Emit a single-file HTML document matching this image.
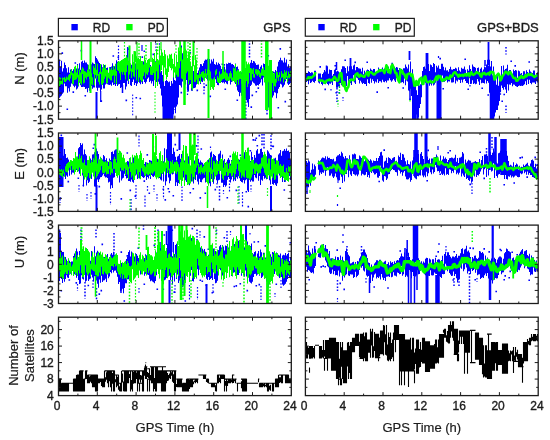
<!DOCTYPE html><html><head><meta charset="utf-8"><style>html,body{margin:0;padding:0;background:#fff;}svg{display:block}</style></head><body>
<svg width="550" height="440" viewBox="0 0 550 440">
<rect width="550" height="440" fill="#fff"/>
<defs>
<clipPath id="cp00"><rect x="58.50" y="40.80" width="232.80" height="78.40"/></clipPath>
<clipPath id="cp01"><rect x="305.40" y="40.80" width="232.80" height="78.40"/></clipPath>
<clipPath id="cp10"><rect x="58.50" y="133.00" width="232.80" height="78.40"/></clipPath>
<clipPath id="cp11"><rect x="305.40" y="133.00" width="232.80" height="78.40"/></clipPath>
<clipPath id="cp20"><rect x="58.50" y="225.10" width="232.80" height="78.40"/></clipPath>
<clipPath id="cp21"><rect x="305.40" y="225.10" width="232.80" height="78.40"/></clipPath>
<clipPath id="cp30"><rect x="58.50" y="317.20" width="232.80" height="78.40"/></clipPath>
<clipPath id="cp31"><rect x="305.40" y="317.20" width="232.80" height="78.40"/></clipPath>
</defs>
<g clip-path="url(#cp00)">
<path d="M58.5 67.5V96.9M59.5 59.5V97.8M60.5 66.7V96.5M61.5 60.8V95.6M62.5 71.6V93.8M63.5 68.3V92.4M64.5 62.6V83.4M65.5 64.9V86.3M66.5 68.3V86.2M67.5 72.4V92.7M68.5 67.3V88.2M69.5 72.8V91.5M70.5 69.5V86.8M71.5 69.0V83.6M72.5 71.0V84.2M73.5 69.2V85.8M74.5 67.8V87.2M75.5 69.6V85.7M76.5 68.6V89.4M77.5 64.1V88.4M78.5 68.6V86.5M79.5 63.2V82.8M80.5 69.8V85.3M81.5 61.8V87.0M82.5 60.7V87.0M83.5 62.9V86.7M84.5 60.4V86.9M85.5 62.5V89.1M86.5 62.6V88.6M87.5 64.2V92.3M88.5 69.8V87.9M89.5 69.2V90.8M90.5 66.0V85.9M91.5 64.2V86.0M92.5 62.5V88.8M93.5 63.5V87.4M94.5 63.9V87.5M95.5 56.3V78.5M96.5 58.0V87.7M97.5 59.5V90.8M98.5 61.5V87.8M99.5 63.1V87.8M100.5 64.6V91.4M101.5 64.4V89.6M102.5 67.2V81.1M103.5 64.4V88.5M104.5 65.0V88.6M105.5 66.8V84.5M106.5 68.0V83.6M107.5 67.4V84.3M108.5 72.8V84.8M109.5 67.2V85.0M110.5 66.9V84.6M111.5 66.6V85.8M112.5 63.2V82.6M113.5 69.6V84.9M114.5 66.3V84.2M115.5 64.9V86.1M116.5 60.2V81.3M117.5 61.8V86.1M118.5 63.8V84.4M119.5 66.2V83.9M120.5 67.5V88.0M121.5 63.2V87.2M122.5 67.7V88.3M123.5 61.7V82.9M124.5 60.5V82.9M125.5 59.1V89.6M126.5 65.6V86.6M127.5 57.7V80.8M128.5 65.6V84.0M129.5 62.6V79.0M130.5 67.6V85.2M131.5 64.8V86.0M132.5 61.1V82.1M133.5 62.3V79.5M134.5 64.5V85.1M135.5 63.5V82.9M136.5 67.8V86.1M137.5 63.8V83.6M138.5 64.3V78.2M139.5 61.8V82.7M140.5 61.7V84.2M141.5 69.0V82.2M142.5 61.5V84.0M143.5 61.6V79.6M144.5 68.3V82.0M145.5 61.6V83.5M146.5 63.5V81.8M147.5 65.2V78.7M148.5 65.1V77.5M149.5 65.6V82.0M150.5 65.1V80.7M151.5 67.3V83.6M152.5 66.0V81.3M153.5 68.3V85.9M154.5 66.1V79.6M155.5 67.6V84.8M156.5 65.0V81.9M157.5 66.4V83.9M158.5 63.9V81.8M159.5 63.8V84.3M160.5 71.7V88.5M161.5 71.0V95.6M162.5 74.9V106.4M163.5 77.8V105.9M164.5 90.6V116.6M165.5 80.9V115.2M166.5 79.9V120.0M167.5 81.0V118.3M168.5 82.3V119.8M169.5 81.5V119.1M170.5 86.6V117.9M171.5 81.1V118.0M172.5 83.4V115.1M173.5 75.2V114.3M174.5 79.9V107.2M175.5 80.7V113.3M176.5 65.8V106.4M177.5 62.2V104.6M178.5 54.5V97.5M179.5 51.1V84.9M180.5 45.2V85.5M181.5 45.5V87.4M182.5 53.3V81.6M183.5 56.1V78.4M184.5 53.3V80.3M185.5 54.6V84.5M186.5 54.9V80.1M187.5 63.4V89.9M188.5 66.1V91.6M189.5 64.7V84.7M190.5 67.4V84.1M191.5 66.6V90.8M192.5 69.7V90.8M193.5 71.0V88.3M194.5 72.7V88.1M195.5 73.3V87.5M196.5 73.0V84.5M197.5 72.9V83.6M198.5 70.4V82.4M199.5 67.5V81.3M200.5 64.1V84.0M201.5 64.2V81.5M202.5 65.9V81.9M203.5 63.2V78.7M204.5 60.7V78.3M205.5 59.6V77.8M206.5 59.8V78.2M207.5 58.7V80.4M208.5 58.0V79.6M209.5 58.9V80.6M210.5 63.5V80.8M211.5 59.4V85.4M212.5 61.4V82.2M213.5 58.7V84.6M214.5 64.0V82.9M215.5 64.7V79.3M216.5 62.2V83.0M217.5 64.7V84.9M218.5 62.7V85.3M219.5 63.9V81.3M220.5 65.8V80.6M221.5 69.0V82.1M222.5 67.1V82.7M223.5 66.9V82.2M224.5 66.5V83.4M225.5 71.0V82.1M226.5 63.4V83.6M227.5 64.0V84.2M228.5 62.8V77.7M229.5 62.9V79.0M230.5 62.7V84.4M231.5 64.2V82.0M232.5 63.9V80.9M233.5 65.0V80.9M234.5 66.4V79.9M235.5 63.6V84.1M236.5 67.0V86.5M237.5 66.4V90.6M238.5 69.3V92.1M239.5 75.1V96.3M240.5 71.5V92.7M241.5 72.2V95.8M242.5 75.3V93.2M243.5 68.4V91.7M244.5 68.0V99.5M245.5 69.1V98.0M246.5 71.0V100.2M247.5 76.0V102.4M248.5 71.1V107.1M249.5 65.1V99.1M250.5 62.7V86.1M251.5 59.9V84.7M252.5 62.9V81.4M253.5 61.0V82.8M254.5 61.5V83.6M255.5 63.2V85.5M256.5 64.9V85.8M257.5 64.8V84.9M258.5 64.6V85.4M259.5 68.9V83.9M260.5 66.7V82.5M261.5 65.2V79.3M262.5 69.8V85.4M263.5 63.6V77.6M264.5 64.1V82.2M265.5 64.6V84.4M266.5 62.4V99.0M267.5 66.9V107.0M268.5 66.8V107.6M269.5 73.5V104.6M270.5 73.9V102.6M271.5 75.5V99.1M272.5 78.6V97.5M273.5 79.5V95.6M274.5 72.3V92.3M275.5 70.0V92.7M276.5 71.6V98.3M277.5 66.6V93.2M278.5 61.7V88.7M279.5 60.1V87.0M280.5 57.7V83.7M281.5 60.2V84.5M282.5 60.5V87.4M283.5 62.4V86.4M284.5 57.8V84.8M285.5 62.6V81.3M286.5 59.4V78.9M287.5 66.6V83.5M288.5 64.3V85.0M289.5 67.7V84.1M290.5 66.4V83.1" stroke="#0000ff" stroke-width="1.05" fill="none"/>
<rect x="95.50" y="92.0" width="2.00" height="28.0" fill="#0000ff"/>
<rect x="100.10" y="91.0" width="1.20" height="11.0" fill="#0000ff"/>
<line x1="118.50" y1="45.5" x2="118.50" y2="60.0" stroke="#0000ff" stroke-width="1.20" stroke-dasharray="1.6 1.6"/>
<rect x="121.75" y="85.0" width="1.50" height="8.0" fill="#0000ff"/>
<rect x="126.95" y="47.0" width="1.50" height="22.0" fill="#0000ff"/>
<line x1="132.70" y1="94.5" x2="132.70" y2="116.0" stroke="#0000ff" stroke-width="1.00" stroke-dasharray="1.6 1.6"/>
<rect x="141.40" y="45.0" width="1.20" height="6.0" fill="#0000ff"/>
<line x1="156.00" y1="40.0" x2="156.00" y2="51.0" stroke="#0000ff" stroke-width="1.20" stroke-dasharray="1.6 1.6"/>
<line x1="159.50" y1="40.0" x2="159.50" y2="67.0" stroke="#0000ff" stroke-width="1.20" stroke-dasharray="1.6 1.6"/>
<line x1="187.50" y1="87.0" x2="187.50" y2="95.0" stroke="#0000ff" stroke-width="1.20" stroke-dasharray="1.6 1.6"/>
<line x1="204.00" y1="83.0" x2="204.00" y2="95.0" stroke="#0000ff" stroke-width="1.20" stroke-dasharray="1.6 1.6"/>
<line x1="245.50" y1="95.0" x2="245.50" y2="120.0" stroke="#0000ff" stroke-width="2.00" stroke-dasharray="1.6 1.6"/>
<line x1="249.50" y1="40.0" x2="249.50" y2="58.0" stroke="#0000ff" stroke-width="1.50" stroke-dasharray="1.6 1.6"/>
<rect x="162.50" y="86.0" width="11.00" height="34.0" fill="#0000ff"/>
<line x1="163.00" y1="82.0" x2="163.00" y2="100.0" stroke="#0000ff" stroke-width="2.00" stroke-dasharray="1.6 1.6"/>
<line x1="175.00" y1="90.0" x2="175.00" y2="110.0" stroke="#0000ff" stroke-width="1.50" stroke-dasharray="1.6 1.6"/>
<line x1="267.00" y1="100.0" x2="267.00" y2="115.0" stroke="#0000ff" stroke-width="1.50" stroke-dasharray="1.6 1.6"/>
<path d="M61.5 52.3h1.6v1.6h-1.6zM66.5 108.4h1.6v1.6h-1.6zM72.5 91.3h1.6v1.6h-1.6zM74.5 62.2h1.6v1.6h-1.6zM80.5 49.8h1.6v1.6h-1.6zM84.5 95.0h1.6v1.6h-1.6zM100.5 100.3h1.6v1.6h-1.6zM112.5 55.2h1.6v1.6h-1.6zM117.5 56.5h1.6v1.6h-1.6zM125.5 99.6h1.6v1.6h-1.6zM127.5 48.3h1.6v1.6h-1.6zM134.5 56.9h1.6v1.6h-1.6zM135.5 97.0h1.6v1.6h-1.6zM139.5 97.7h1.6v1.6h-1.6zM141.5 56.3h1.6v1.6h-1.6zM143.5 50.4h1.6v1.6h-1.6zM148.5 59.4h1.6v1.6h-1.6zM152.5 53.6h1.6v1.6h-1.6zM153.5 59.5h1.6v1.6h-1.6zM154.5 61.2h1.6v1.6h-1.6zM180.5 91.8h1.6v1.6h-1.6zM189.5 51.9h1.6v1.6h-1.6zM195.5 61.5h1.6v1.6h-1.6zM196.5 89.6h1.6v1.6h-1.6zM203.5 86.6h1.6v1.6h-1.6zM205.5 84.5h1.6v1.6h-1.6zM209.5 95.6h1.6v1.6h-1.6zM221.5 63.4h1.6v1.6h-1.6zM223.5 64.1h1.6v1.6h-1.6zM224.5 88.5h1.6v1.6h-1.6zM236.5 99.5h1.6v1.6h-1.6zM243.5 61.7h1.6v1.6h-1.6zM250.5 106.3h1.6v1.6h-1.6zM251.5 94.6h1.6v1.6h-1.6zM255.5 90.9h1.6v1.6h-1.6zM257.5 87.3h1.6v1.6h-1.6zM267.5 55.0h1.6v1.6h-1.6zM271.5 72.0h1.6v1.6h-1.6zM272.5 71.5h1.6v1.6h-1.6zM277.5 106.9h1.6v1.6h-1.6zM279.5 48.1h1.6v1.6h-1.6zM284.5 100.8h1.6v1.6h-1.6z" fill="#0000ff"/>
<path d="M58.5 75.4V82.7M59.5 77.3V86.8M60.5 77.8V84.7M61.5 80.7V84.1M62.5 77.5V84.5M63.5 78.1V79.5M64.5 77.1V81.9M65.5 78.6V81.9M66.5 76.5V80.7M67.5 77.4V79.4M68.5 75.2V80.0M69.5 74.0V81.2M70.5 71.5V78.6M71.5 69.1V75.2M72.5 72.7V83.8M73.5 73.4V84.3M74.5 66.7V80.0M75.5 65.8V79.8M76.5 72.6V79.3M77.5 65.1V77.4M78.5 74.7V85.7M79.5 69.4V81.7M80.5 72.6V83.5M81.5 69.4V84.8M82.5 67.3V73.9M83.5 68.5V83.6M84.5 71.0V82.7M85.5 71.6V77.8M86.5 72.5V79.5M87.5 69.7V77.1M88.5 64.8V76.6M89.5 71.2V79.3M90.5 74.0V85.2M91.5 73.3V83.8M92.5 77.2V85.0M93.5 65.7V74.1M94.5 67.7V85.4M95.5 62.8V75.1M96.5 69.8V78.8M97.5 63.8V75.8M98.5 74.0V81.9M99.5 72.1V84.6M100.5 64.0V74.0M101.5 71.7V84.6M102.5 68.3V85.1M103.5 64.2V83.1M104.5 67.7V78.8M105.5 64.8V76.6M106.5 69.4V83.3M107.5 70.1V83.3M108.5 72.9V77.8M109.5 68.0V79.0M110.5 69.4V80.2M111.5 67.4V80.6M112.5 69.9V75.9M113.5 65.7V75.2M114.5 69.3V83.1M115.5 63.7V75.8M116.5 70.9V83.9M117.5 62.5V70.2M118.5 61.1V71.0M119.5 61.5V73.2M120.5 61.0V80.1M121.5 59.9V72.1M122.5 59.5V74.4M123.5 58.9V71.9M124.5 58.0V75.1M125.5 57.7V79.5M126.5 55.0V71.9M127.5 57.4V65.3M128.5 60.5V80.9M129.5 50.4V74.4M130.5 63.2V71.3M131.5 68.4V78.0M132.5 54.3V72.1M133.5 62.7V76.3M134.5 53.3V77.2M135.5 51.4V61.9M136.5 56.3V80.4M137.5 58.6V69.6M138.5 57.8V82.0M139.5 59.2V77.5M140.5 56.1V80.1M141.5 61.0V82.1M142.5 61.1V81.1M143.5 64.4V75.9M144.5 55.4V72.4M145.5 60.1V77.9M146.5 62.8V73.8M147.5 59.9V75.0M148.5 59.0V72.2M149.5 58.4V67.6M150.5 66.3V74.8M151.5 66.4V75.0M152.5 57.7V74.9M153.5 58.9V72.9M154.5 53.0V80.3M155.5 62.0V87.9M156.5 49.0V71.2M157.5 59.0V85.9M158.5 60.2V78.8M159.5 45.6V64.7M160.5 55.5V72.4M161.5 49.2V69.9M162.5 52.5V65.3M163.5 56.0V81.4M164.5 50.1V67.4M165.5 54.3V74.8M166.5 68.6V79.4M167.5 55.4V77.1M168.5 58.4V71.9M169.5 54.3V66.4M170.5 54.7V68.1M171.5 53.8V70.3M172.5 58.7V68.6M173.5 63.9V77.4M174.5 53.3V72.5M175.5 66.5V78.2M176.5 55.1V74.7M177.5 62.8V76.7M178.5 47.4V76.8M179.5 50.2V68.2M180.5 42.2V61.3M181.5 47.4V78.5M182.5 59.6V79.3M183.5 51.3V79.4M184.5 45.8V59.1M185.5 48.8V79.7M186.5 50.5V73.3M187.5 57.7V71.6M188.5 51.5V84.3M189.5 51.8V80.2M190.5 61.5V80.1M191.5 66.6V88.2M192.5 56.1V90.2M193.5 48.7V66.3M194.5 65.2V82.0M195.5 55.0V81.7M196.5 59.7V79.7M197.5 74.8V83.9M198.5 74.8V84.6M199.5 70.7V77.9M200.5 74.1V82.7M201.5 71.9V76.7M202.5 71.4V78.1M203.5 71.1V80.6M204.5 73.3V81.3M205.5 69.1V76.9M206.5 73.4V79.0M207.5 69.3V75.1M208.5 68.3V82.7M209.5 69.9V80.0M210.5 71.6V90.1M211.5 78.4V86.9M212.5 79.4V88.8M213.5 78.4V89.9M214.5 76.7V87.0M215.5 70.4V75.6M216.5 69.1V74.2M217.5 75.9V82.0M218.5 77.8V82.9M219.5 71.6V82.9M220.5 74.2V83.1M221.5 73.4V81.1M222.5 70.0V79.5M223.5 66.5V78.9M224.5 71.7V78.4M225.5 69.4V80.0M226.5 72.8V80.9M227.5 73.6V80.5M228.5 76.5V80.9M229.5 73.2V80.4M230.5 71.0V78.6M231.5 73.3V80.6M232.5 77.4V81.4M233.5 67.7V80.9M234.5 68.4V82.4M235.5 64.0V82.2M236.5 71.2V86.0M237.5 69.7V80.0M238.5 70.3V84.8M239.5 71.6V79.3M240.5 70.9V79.0M241.5 73.7V83.7M242.5 78.8V85.8M243.5 66.3V82.3M244.5 77.9V89.5M245.5 67.9V83.1M246.5 61.5V81.1M247.5 64.2V87.1M248.5 62.5V83.8M249.5 64.2V73.1M250.5 68.0V80.2M251.5 68.5V80.5M252.5 69.5V74.1M253.5 68.0V77.5M254.5 73.9V77.7M255.5 69.2V73.8M256.5 68.9V74.4M257.5 69.7V75.9M258.5 69.6V74.5M259.5 70.7V76.9M260.5 72.7V78.5M261.5 69.2V75.7M262.5 68.6V75.6M263.5 66.9V76.0M264.5 69.9V82.3M265.5 68.5V78.8M266.5 67.5V84.3M267.5 66.3V81.6M268.5 65.7V82.2M269.5 68.9V90.4M270.5 62.6V83.3M271.5 67.3V82.9M272.5 71.1V83.0M273.5 73.2V91.0M274.5 72.9V86.1M275.5 78.8V86.7M276.5 71.6V82.5M277.5 72.3V77.7M278.5 75.1V80.9M279.5 72.3V76.9M280.5 77.7V81.6M281.5 71.1V77.9M282.5 73.5V77.3M283.5 73.7V82.4M284.5 70.1V78.8M285.5 72.3V79.9M286.5 70.8V77.5M287.5 76.1V82.3M288.5 71.6V77.7M289.5 73.7V78.2M290.5 71.1V76.7" stroke="#00ff00" stroke-width="1.05" fill="none"/>
<rect x="80.75" y="40.0" width="1.50" height="20.0" fill="#00ff00"/>
<rect x="89.50" y="40.0" width="2.00" height="53.0" fill="#00ff00"/>
<rect x="128.50" y="45.5" width="2.00" height="24.5" fill="#00ff00"/>
<rect x="133.50" y="51.0" width="2.00" height="19.0" fill="#00ff00"/>
<line x1="139.00" y1="40.0" x2="139.00" y2="72.0" stroke="#00ff00" stroke-width="1.50" stroke-dasharray="1.6 1.6"/>
<line x1="155.00" y1="92.0" x2="155.00" y2="113.0" stroke="#00ff00" stroke-width="1.00" stroke-dasharray="1.6 1.6"/>
<rect x="183.25" y="40.0" width="2.50" height="65.0" fill="#00ff00"/>
<line x1="190.00" y1="40.0" x2="190.00" y2="60.0" stroke="#00ff00" stroke-width="2.00" stroke-dasharray="1.6 1.6"/>
<rect x="192.50" y="40.0" width="2.00" height="20.0" fill="#00ff00"/>
<rect x="207.50" y="49.0" width="2.00" height="69.0" fill="#00ff00"/>
<rect x="222.25" y="51.0" width="1.50" height="19.0" fill="#00ff00"/>
<rect x="241.25" y="40.0" width="4.50" height="80.0" fill="#00ff00"/>
<line x1="261.50" y1="40.0" x2="261.50" y2="58.0" stroke="#00ff00" stroke-width="1.50" stroke-dasharray="1.6 1.6"/>
<line x1="124.50" y1="42.0" x2="124.50" y2="60.0" stroke="#00ff00" stroke-width="1.20" stroke-dasharray="1.6 1.6"/>
<rect x="136.40" y="42.0" width="1.20" height="20.0" fill="#00ff00"/>
<line x1="146.00" y1="45.0" x2="146.00" y2="60.0" stroke="#00ff00" stroke-width="1.50" stroke-dasharray="1.6 1.6"/>
<rect x="150.25" y="42.0" width="1.50" height="20.0" fill="#00ff00"/>
<line x1="157.50" y1="40.0" x2="157.50" y2="55.0" stroke="#00ff00" stroke-width="1.50" stroke-dasharray="1.6 1.6"/>
<rect x="160.40" y="42.0" width="1.20" height="8.0" fill="#00ff00"/>
<line x1="176.00" y1="45.0" x2="176.00" y2="55.0" stroke="#00ff00" stroke-width="1.20" stroke-dasharray="1.6 1.6"/>
<rect x="179.25" y="40.0" width="1.50" height="10.0" fill="#00ff00"/>
<line x1="188.00" y1="42.0" x2="188.00" y2="58.0" stroke="#00ff00" stroke-width="1.20" stroke-dasharray="1.6 1.6"/>
<line x1="197.00" y1="48.0" x2="197.00" y2="70.0" stroke="#00ff00" stroke-width="1.20" stroke-dasharray="1.6 1.6"/>
<rect x="265.05" y="40.0" width="3.50" height="70.0" fill="#00ff00"/>
<rect x="269.00" y="60.0" width="3.00" height="60.0" fill="#00ff00"/>
</g>
<g clip-path="url(#cp01)">
<path d="M305.5 70.1V77.1M306.5 73.1V81.9M307.5 73.1V80.7M308.5 71.2V84.2M309.5 72.0V80.5M310.5 73.1V83.0M311.5 72.3V82.3M312.5 72.5V80.7M313.5 74.7V81.9M314.5 70.7V82.7M315.5 70.7V81.0M318.5 73.5V82.5M319.5 73.5V83.4M320.5 73.5V79.9M321.5 77.4V83.9M322.5 73.9V85.2M323.5 72.5V83.6M324.5 70.1V84.0M325.5 71.4V84.3M326.5 74.2V82.5M327.5 66.3V83.9M328.5 73.7V85.2M329.5 69.5V83.4M330.5 70.1V83.7M331.5 69.9V82.5M332.5 75.7V85.1M333.5 74.1V80.3M334.5 69.7V80.9M335.5 68.5V80.9M336.5 71.5V87.8M337.5 70.8V87.7M338.5 71.6V86.4M339.5 76.2V88.0M340.5 72.4V83.0M341.5 69.3V85.2M342.5 66.2V76.9M343.5 66.2V83.7M344.5 66.6V87.6M345.5 68.1V84.7M346.5 73.2V86.1M347.5 66.2V76.0M348.5 71.3V84.4M349.5 66.3V79.0M350.5 63.7V83.1M351.5 66.2V85.1M352.5 69.2V80.0M353.5 65.5V75.3M354.5 64.6V82.5M355.5 70.2V83.9M356.5 67.0V77.5M357.5 66.9V78.3M358.5 68.3V80.1M359.5 68.4V83.6M360.5 68.8V80.8M361.5 71.5V82.6M362.5 67.7V84.1M363.5 74.2V83.0M364.5 70.7V83.9M365.5 73.2V83.9M366.5 70.5V86.0M367.5 69.5V79.3M368.5 70.1V82.9M369.5 74.6V83.8M370.5 68.6V78.6M371.5 69.8V82.8M372.5 70.6V79.3M373.5 69.0V81.1M374.5 69.1V83.5M375.5 72.8V81.5M376.5 72.1V82.5M377.5 71.4V79.3M378.5 67.4V82.9M379.5 70.2V81.3M380.5 71.5V81.2M381.5 70.1V82.4M382.5 67.6V79.7M383.5 69.4V81.8M384.5 68.5V82.2M385.5 67.5V81.1M386.5 67.7V82.5M387.5 72.7V80.6M388.5 66.7V80.4M389.5 69.9V78.3M390.5 66.4V80.2M391.5 68.1V81.7M392.5 67.8V80.4M393.5 69.8V79.0M394.5 66.8V80.6M395.5 68.3V82.0M396.5 67.0V77.9M397.5 67.4V78.7M398.5 69.9V81.6M399.5 68.1V81.1M400.5 75.4V82.5M401.5 68.9V82.5M402.5 74.3V82.1M403.5 68.3V83.3M404.5 68.2V78.6M405.5 64.5V85.3M406.5 66.8V80.6M407.5 68.4V81.4M408.5 64.4V90.4M409.5 71.8V91.2M410.5 61.6V88.7M411.5 75.7V96.0M412.5 69.3V102.6M413.5 83.5V111.0M414.5 83.4V116.1M415.5 81.6V119.7M416.5 90.2V114.6M417.5 95.0V120.2M418.5 81.5V116.9M419.5 85.6V107.9M420.5 84.2V104.1M421.5 79.8V97.2M422.5 71.0V82.0M423.5 67.1V78.0M424.5 66.5V79.2M425.5 68.7V82.8M426.5 64.0V75.1M427.5 71.0V83.7M428.5 64.1V82.8M429.5 70.9V85.7M430.5 64.5V83.7M431.5 65.3V85.6M432.5 67.1V80.5M433.5 63.0V85.4M434.5 64.1V84.5M435.5 72.3V82.8M436.5 65.7V76.1M437.5 67.5V86.2M438.5 65.4V79.6M439.5 68.7V80.5M440.5 69.0V84.6M441.5 63.8V78.3M442.5 63.7V75.5M443.5 66.8V81.8M444.5 70.3V81.7M445.5 67.5V81.1M446.5 70.5V79.7M447.5 70.3V82.4M448.5 71.7V81.3M449.5 68.9V81.5M450.5 66.8V78.6M451.5 69.4V82.5M452.5 69.7V82.6M453.5 69.0V82.3M454.5 68.9V77.1M455.5 67.8V83.4M456.5 68.5V80.4M457.5 71.1V81.4M458.5 67.2V79.6M459.5 70.6V79.9M460.5 71.8V82.9M461.5 67.8V79.7M462.5 68.7V82.6M463.5 68.7V79.4M464.5 66.5V79.1M465.5 69.7V80.9M466.5 73.4V82.9M467.5 69.3V83.0M468.5 70.8V84.3M469.5 65.2V78.3M470.5 69.1V83.9M471.5 73.6V83.7M472.5 64.4V80.3M473.5 66.5V84.1M474.5 67.0V83.3M475.5 67.8V84.2M476.5 71.3V83.8M477.5 68.0V79.1M478.5 67.4V81.4M479.5 73.3V85.1M480.5 68.8V79.8M481.5 67.5V83.3M482.5 71.6V82.8M483.5 69.6V82.9M484.5 66.5V83.4M485.5 67.2V79.4M486.5 64.4V83.6M487.5 59.7V80.9M488.5 65.5V82.7M489.5 59.8V92.8M490.5 66.6V98.0M491.5 61.0V101.0M492.5 75.3V105.2M493.5 66.6V108.8M494.5 78.6V116.6M495.5 75.9V112.5M496.5 84.8V110.1M497.5 74.1V110.0M498.5 85.8V105.4M499.5 79.0V101.1M500.5 76.2V92.2M501.5 66.1V85.4M502.5 75.0V87.9M503.5 65.5V89.8M504.5 70.3V87.0M505.5 69.1V89.5M506.5 68.6V92.9M507.5 64.7V84.3M508.5 71.5V90.5M509.5 69.9V84.5M510.5 69.9V84.8M511.5 74.2V83.0M512.5 73.7V86.3M513.5 69.6V84.6M514.5 70.9V84.8M515.5 70.1V86.1M516.5 70.4V86.4M517.5 77.7V86.9M518.5 70.5V86.1M519.5 71.2V85.6M520.5 73.7V86.0M521.5 73.0V85.8M522.5 74.9V85.9M523.5 71.2V85.2M524.5 71.3V84.3M525.5 73.7V81.2M526.5 70.2V85.1M527.5 71.9V79.6M528.5 73.2V84.1M529.5 69.6V79.8M530.5 71.5V83.0M531.5 72.4V84.2M532.5 73.1V82.6M533.5 70.6V82.6M534.5 70.5V82.6M535.5 75.1V84.1M536.5 73.8V81.3M537.5 72.3V82.4" stroke="#0000ff" stroke-width="1.05" fill="none"/>
<rect x="325.75" y="65.5" width="1.50" height="9.5" fill="#0000ff"/>
<line x1="331.00" y1="89.0" x2="331.00" y2="91.0" stroke="#0000ff" stroke-width="1.20" stroke-dasharray="1.6 1.6"/>
<rect x="335.75" y="62.0" width="1.50" height="8.0" fill="#0000ff"/>
<line x1="337.00" y1="88.0" x2="337.00" y2="102.0" stroke="#0000ff" stroke-width="1.50" stroke-dasharray="1.6 1.6"/>
<line x1="343.00" y1="97.0" x2="343.00" y2="101.0" stroke="#0000ff" stroke-width="1.20" stroke-dasharray="1.6 1.6"/>
<rect x="349.60" y="58.0" width="1.80" height="10.0" fill="#0000ff"/>
<rect x="408.60" y="51.0" width="1.80" height="9.0" fill="#0000ff"/>
<rect x="409.25" y="87.0" width="1.50" height="13.0" fill="#0000ff"/>
<rect x="412.00" y="85.0" width="4.00" height="35.0" fill="#0000ff"/>
<rect x="416.25" y="95.0" width="2.50" height="25.0" fill="#0000ff"/>
<rect x="425.60" y="53.0" width="2.80" height="67.0" fill="#0000ff"/>
<rect x="436.50" y="76.0" width="5.00" height="44.0" fill="#0000ff"/>
<rect x="437.90" y="56.0" width="1.20" height="2.0" fill="#0000ff"/>
<line x1="470.00" y1="85.0" x2="470.00" y2="88.0" stroke="#0000ff" stroke-width="1.20" stroke-dasharray="1.6 1.6"/>
<rect x="484.25" y="60.0" width="1.50" height="6.0" fill="#0000ff"/>
<rect x="487.60" y="42.0" width="1.80" height="23.0" fill="#0000ff"/>
<rect x="489.75" y="84.0" width="4.50" height="36.0" fill="#0000ff"/>
<rect x="494.50" y="95.0" width="2.00" height="14.0" fill="#0000ff"/>
<line x1="500.50" y1="90.0" x2="500.50" y2="96.0" stroke="#0000ff" stroke-width="1.20" stroke-dasharray="1.6 1.6"/>
<line x1="506.00" y1="47.0" x2="506.00" y2="54.5" stroke="#0000ff" stroke-width="1.50" stroke-dasharray="1.6 1.6"/>
<line x1="506.00" y1="105.5" x2="506.00" y2="112.7" stroke="#0000ff" stroke-width="1.50" stroke-dasharray="1.6 1.6"/>
<path d="M319.4 66.1h1.6v1.6h-1.6zM324.4 88.6h1.6v1.6h-1.6zM334.4 64.9h1.6v1.6h-1.6zM335.4 92.0h1.6v1.6h-1.6zM338.4 92.0h1.6v1.6h-1.6zM344.4 59.5h1.6v1.6h-1.6zM354.4 61.6h1.6v1.6h-1.6zM366.4 61.5h1.6v1.6h-1.6zM376.4 91.3h1.6v1.6h-1.6zM387.4 87.0h1.6v1.6h-1.6zM391.4 62.8h1.6v1.6h-1.6zM402.4 87.2h1.6v1.6h-1.6zM409.4 98.4h1.6v1.6h-1.6zM439.4 57.8h1.6v1.6h-1.6zM442.4 87.9h1.6v1.6h-1.6zM464.4 58.5h1.6v1.6h-1.6zM467.4 88.5h1.6v1.6h-1.6zM481.4 87.5h1.6v1.6h-1.6zM487.4 94.2h1.6v1.6h-1.6zM501.4 100.4h1.6v1.6h-1.6zM503.4 93.7h1.6v1.6h-1.6zM510.4 60.4h1.6v1.6h-1.6zM514.4 65.1h1.6v1.6h-1.6zM528.4 61.2h1.6v1.6h-1.6z" fill="#0000ff"/>
<polyline points="305.4,79.8 306.4,79.6 307.4,79.0 308.4,77.2 309.4,78.2 310.4,77.2 311.4,77.7 312.4,76.9 313.4,76.0 314.4,75.5 315.4,72.1" stroke="#00ff00" stroke-width="2.5" fill="none" stroke-linejoin="round"/>
<polyline points="318.4,79.5 319.4,80.4 320.4,80.4 321.4,80.5 322.4,80.7 323.4,81.2 324.4,82.9 325.4,82.6 326.4,80.9 327.4,80.3 328.4,80.0 329.4,79.6 330.4,80.4 331.4,80.0 332.4,80.3 333.4,78.5 334.4,76.7 335.4,77.9 336.4,80.4 337.4,80.9 338.4,80.1 339.4,75.1 340.4,73.1 341.4,73.2 342.4,83.4 343.4,85.9 344.4,82.0 345.4,89.2 346.4,91.0 347.4,88.1 348.4,86.9 349.4,81.3 350.4,80.1 351.4,79.4 352.4,79.9 353.4,80.2 354.4,79.3 355.4,74.9 356.4,73.8 357.4,73.2 358.4,76.2 359.4,76.8 360.4,74.7 361.4,75.8 362.4,75.8 363.4,76.8 364.4,76.8 365.4,75.0 366.4,73.2 367.4,72.2 368.4,75.9 369.4,72.2 370.4,72.2 371.4,72.2 372.4,73.4 373.4,74.5 374.4,74.6 375.4,73.4 376.4,72.5 377.4,71.9 378.4,71.5 379.4,70.1 380.4,70.9 381.4,69.9 382.4,70.3 383.4,70.9 384.4,73.1 385.4,69.8 386.4,65.3 387.4,67.2 388.4,72.3 389.4,70.3 390.4,73.1 391.4,66.4 392.4,64.5 393.4,67.1 394.4,69.6 395.4,72.9 396.4,72.9 397.4,77.6 398.4,80.5 399.4,82.4 400.4,69.6 401.4,72.3 402.4,70.9 403.4,73.8 404.4,74.3 405.4,77.1 406.4,78.8 407.4,74.2 408.4,73.9 409.4,73.3 410.4,73.7 411.4,76.0 412.4,74.6 413.4,80.1 414.4,85.8 415.4,85.6 416.4,81.0 417.4,84.7 418.4,84.5 419.4,79.4 420.4,78.6 421.4,77.7 422.4,83.9 423.4,84.1 424.4,76.9 425.4,76.3 426.4,81.1 427.4,82.3 428.4,82.3 429.4,81.6 430.4,80.9 431.4,82.3 432.4,82.3 433.4,82.3 434.4,81.1 435.4,78.7 436.4,76.6 437.4,79.7 438.4,75.8 439.4,77.1 440.4,76.1 441.4,79.8 442.4,80.8 443.4,79.3 444.4,80.1 445.4,79.4 446.4,77.5 447.4,77.5 448.4,78.7 449.4,78.8 450.4,75.5 451.4,76.8 452.4,76.1 453.4,73.4 454.4,72.5 455.4,72.2 456.4,74.3 457.4,74.8 458.4,76.8 459.4,74.7 460.4,75.8 461.4,75.3 462.4,74.8 463.4,76.1 464.4,74.6 465.4,74.0 466.4,75.7 467.4,74.6 468.4,73.4 469.4,76.2 470.4,73.3 471.4,72.2 472.4,74.6 473.4,74.9 474.4,74.3 475.4,73.3 476.4,72.2 477.4,72.3 478.4,73.4 479.4,73.2 480.4,75.9 481.4,76.8 482.4,73.3 483.4,73.9 484.4,72.8 485.4,74.4 486.4,74.4 487.4,73.8 488.4,73.0 489.4,74.6 490.4,71.7 491.4,72.5 492.4,71.9 493.4,72.4 494.4,79.5 495.4,78.5 496.4,75.7 497.4,74.8 498.4,73.6 499.4,75.8 500.4,80.4 501.4,79.0 502.4,76.0 503.4,75.1 504.4,73.4 505.4,71.7 506.4,71.7 507.4,73.3 508.4,74.4 509.4,71.9 510.4,72.0 511.4,74.2 512.4,75.9 513.4,77.8 514.4,78.2 515.4,77.9 516.4,80.8 517.4,80.8 518.4,79.5 519.4,77.3 520.4,78.0 521.4,75.8 522.4,77.0 523.4,78.0 524.4,77.4 525.4,75.2 526.4,76.4 527.4,75.0 528.4,74.0 529.4,75.0 530.4,74.8 531.4,74.0 532.4,75.4 533.4,76.1 534.4,77.0 535.4,76.2 536.4,75.7 537.4,75.1" stroke="#00ff00" stroke-width="2.5" fill="none" stroke-linejoin="round"/>
<line x1="338.00" y1="100.0" x2="338.00" y2="107.0" stroke="#00ff00" stroke-width="1.20" stroke-dasharray="1.6 1.6"/>
<line x1="339.50" y1="83.0" x2="339.50" y2="94.0" stroke="#00ff00" stroke-width="1.50" stroke-dasharray="1.6 1.6"/>
<line x1="410.00" y1="100.0" x2="410.00" y2="103.0" stroke="#00ff00" stroke-width="1.20" stroke-dasharray="1.6 1.6"/>
</g>
<g clip-path="url(#cp10)">
<path d="M58.5 151.1V187.1M59.5 140.3V177.5M60.5 139.7V172.2M61.5 157.6V181.1M62.5 149.5V181.9M63.5 155.7V176.2M64.5 149.1V174.8M65.5 154.1V179.1M66.5 158.1V175.4M67.5 157.4V176.8M68.5 159.4V169.6M69.5 164.1V175.7M70.5 161.4V169.2M71.5 165.6V174.6M72.5 166.0V172.6M73.5 164.3V172.7M74.5 164.4V168.1M75.5 164.0V171.5M76.5 159.6V169.9M77.5 156.5V167.8M78.5 148.2V171.2M79.5 146.9V173.8M80.5 143.0V164.5M81.5 145.0V166.7M82.5 143.5V175.5M83.5 154.5V186.5M84.5 149.4V173.5M85.5 154.1V176.6M86.5 155.5V185.4M87.5 163.2V180.3M88.5 161.0V183.1M89.5 164.1V181.7M90.5 158.5V175.1M91.5 163.3V178.9M92.5 154.5V172.2M93.5 154.3V176.2M94.5 152.3V186.5M95.5 154.0V186.8M96.5 148.5V187.4M97.5 151.3V179.6M98.5 153.9V182.0M99.5 159.4V179.2M100.5 159.2V177.3M101.5 158.2V177.1M102.5 159.4V175.4M103.5 155.1V174.0M104.5 156.2V176.3M105.5 159.9V177.6M106.5 158.2V177.3M107.5 165.9V177.9M108.5 161.8V182.4M109.5 158.5V181.8M110.5 159.9V188.7M111.5 152.0V185.2M112.5 151.5V188.1M113.5 154.1V177.7M114.5 150.4V177.3M115.5 149.4V163.1M116.5 149.2V164.7M117.5 151.3V172.7M118.5 153.0V165.9M119.5 158.0V182.6M120.5 154.8V171.2M121.5 164.0V180.4M122.5 161.9V178.6M123.5 159.9V177.8M124.5 161.8V173.7M125.5 164.5V176.1M126.5 163.1V178.5M127.5 161.0V177.9M128.5 161.4V180.9M129.5 158.3V181.1M130.5 160.0V181.7M131.5 162.5V179.4M132.5 157.2V181.8M133.5 157.5V182.8M134.5 158.6V179.9M135.5 159.0V175.5M136.5 164.8V174.4M137.5 165.8V179.0M138.5 160.3V172.5M139.5 163.1V178.6M140.5 167.1V178.4M141.5 160.2V176.1M142.5 162.6V177.1M143.5 159.9V178.1M144.5 164.0V177.2M145.5 162.1V175.4M146.5 164.2V180.1M147.5 162.8V177.1M148.5 163.6V178.4M149.5 159.9V175.7M150.5 160.6V179.0M151.5 160.7V174.9M152.5 165.9V176.3M153.5 163.2V177.0M154.5 157.7V175.8M155.5 159.9V172.3M156.5 160.1V174.1M157.5 158.7V175.4M158.5 162.3V177.7M159.5 160.5V177.9M160.5 156.4V179.4M161.5 164.1V180.4M162.5 155.9V172.1M163.5 161.3V181.4M164.5 148.3V170.9M165.5 163.7V185.5M166.5 149.3V181.3M167.5 147.6V168.7M168.5 154.0V177.5M169.5 145.9V183.3M170.5 142.0V180.8M171.5 144.5V173.5M172.5 154.0V174.5M173.5 147.8V173.7M174.5 151.7V171.2M175.5 156.8V186.0M176.5 160.2V182.2M177.5 156.4V185.9M178.5 155.8V182.9M179.5 154.0V183.6M180.5 158.8V179.4M181.5 153.9V175.9M182.5 156.5V179.8M183.5 160.7V177.5M184.5 160.5V177.2M185.5 159.0V180.2M186.5 157.5V182.0M187.5 155.4V172.9M188.5 156.2V184.0M189.5 164.0V185.2M190.5 167.4V182.4M191.5 157.0V181.4M192.5 159.1V176.5M193.5 164.9V183.4M194.5 160.6V177.7M195.5 156.9V179.9M196.5 158.7V174.7M197.5 158.4V181.6M198.5 158.8V184.4M199.5 162.5V178.7M200.5 160.4V182.0M201.5 162.3V182.2M202.5 162.8V179.4M203.5 164.5V178.3M204.5 163.0V177.8M205.5 163.9V182.4M206.5 163.6V181.1M207.5 160.4V181.3M208.5 159.6V181.9M209.5 162.1V183.2M210.5 152.6V186.2M211.5 151.4V179.0M212.5 157.3V180.6M213.5 154.1V183.7M214.5 155.1V177.2M215.5 156.1V172.0M216.5 163.4V180.3M217.5 161.6V183.3M218.5 154.2V180.2M219.5 153.4V179.7M220.5 150.7V170.8M221.5 161.2V182.8M222.5 154.6V182.8M223.5 160.4V187.1M224.5 159.0V185.0M225.5 163.0V186.7M226.5 165.3V185.5M227.5 159.7V179.7M228.5 158.1V177.0M229.5 159.8V178.8M230.5 163.7V182.4M231.5 160.0V179.6M232.5 159.2V176.7M233.5 164.3V181.2M234.5 160.0V179.4M235.5 159.7V181.0M236.5 159.4V177.3M237.5 158.6V178.7M238.5 161.1V176.3M239.5 159.7V178.2M240.5 163.2V180.9M241.5 157.5V182.0M242.5 158.3V182.4M243.5 158.5V180.1M244.5 152.2V183.4M245.5 155.1V180.2M246.5 155.6V179.2M247.5 168.8V190.5M248.5 158.9V191.9M249.5 157.7V179.7M250.5 160.9V181.7M251.5 151.7V180.3M252.5 157.1V181.6M253.5 160.1V181.5M254.5 155.0V175.1M255.5 157.8V177.6M256.5 150.5V178.2M257.5 149.1V173.2M258.5 153.7V180.7M259.5 153.6V175.9M260.5 149.0V184.9M261.5 148.6V179.8M262.5 152.0V180.7M263.5 159.6V176.0M264.5 157.4V178.8M265.5 158.4V177.7M266.5 160.7V179.3M267.5 150.3V178.7M268.5 151.5V172.9M269.5 153.5V180.2M270.5 155.1V184.4M271.5 155.4V175.4M272.5 159.8V183.9M273.5 166.3V184.8M274.5 158.4V183.1M275.5 157.8V184.8M276.5 164.6V186.0M277.5 162.8V183.3M278.5 154.6V172.9M279.5 153.3V175.4M280.5 149.9V170.3M281.5 155.8V174.1M282.5 151.3V181.9M283.5 150.7V176.3M284.5 149.1V182.1M285.5 150.8V181.8M286.5 148.6V179.0M287.5 150.9V181.1M288.5 150.4V178.0M289.5 152.5V175.9M290.5 159.5V180.1" stroke="#0000ff" stroke-width="1.05" fill="none"/>
<rect x="58.50" y="137.0" width="5.00" height="50.0" fill="#0000ff"/>
<line x1="60.00" y1="199.0" x2="60.00" y2="203.0" stroke="#0000ff" stroke-width="1.50" stroke-dasharray="1.6 1.6"/>
<line x1="79.00" y1="185.0" x2="79.00" y2="192.0" stroke="#0000ff" stroke-width="1.20" stroke-dasharray="1.6 1.6"/>
<line x1="87.00" y1="194.0" x2="87.00" y2="201.0" stroke="#0000ff" stroke-width="1.20" stroke-dasharray="1.6 1.6"/>
<line x1="91.00" y1="192.0" x2="91.00" y2="199.0" stroke="#0000ff" stroke-width="1.20" stroke-dasharray="1.6 1.6"/>
<rect x="95.50" y="185.0" width="2.00" height="27.0" fill="#0000ff"/>
<line x1="110.50" y1="192.0" x2="110.50" y2="205.0" stroke="#0000ff" stroke-width="1.20" stroke-dasharray="1.6 1.6"/>
<line x1="131.00" y1="199.0" x2="131.00" y2="212.0" stroke="#0000ff" stroke-width="1.50" stroke-dasharray="1.6 1.6"/>
<line x1="136.00" y1="185.0" x2="136.00" y2="199.0" stroke="#0000ff" stroke-width="1.20" stroke-dasharray="1.6 1.6"/>
<line x1="139.00" y1="135.6" x2="139.00" y2="146.5" stroke="#0000ff" stroke-width="1.20" stroke-dasharray="1.6 1.6"/>
<line x1="145.00" y1="195.6" x2="145.00" y2="208.0" stroke="#0000ff" stroke-width="1.20" stroke-dasharray="1.6 1.6"/>
<line x1="147.50" y1="186.0" x2="147.50" y2="192.0" stroke="#0000ff" stroke-width="1.20" stroke-dasharray="1.6 1.6"/>
<line x1="154.00" y1="185.0" x2="154.00" y2="192.0" stroke="#0000ff" stroke-width="1.20" stroke-dasharray="1.6 1.6"/>
<line x1="157.00" y1="194.0" x2="157.00" y2="201.0" stroke="#0000ff" stroke-width="1.20" stroke-dasharray="1.6 1.6"/>
<line x1="163.50" y1="186.0" x2="163.50" y2="199.0" stroke="#0000ff" stroke-width="1.20" stroke-dasharray="1.6 1.6"/>
<rect x="167.00" y="132.0" width="5.00" height="38.0" fill="#0000ff"/>
<rect x="178.50" y="132.0" width="2.00" height="18.0" fill="#0000ff"/>
<line x1="182.00" y1="186.5" x2="182.00" y2="201.0" stroke="#0000ff" stroke-width="1.20" stroke-dasharray="1.6 1.6"/>
<line x1="198.00" y1="135.6" x2="198.00" y2="155.6" stroke="#0000ff" stroke-width="1.20" stroke-dasharray="1.6 1.6"/>
<line x1="210.50" y1="146.5" x2="210.50" y2="150.0" stroke="#0000ff" stroke-width="1.20" stroke-dasharray="1.6 1.6"/>
<line x1="217.00" y1="183.0" x2="217.00" y2="188.0" stroke="#0000ff" stroke-width="1.20" stroke-dasharray="1.6 1.6"/>
<line x1="219.50" y1="186.0" x2="219.50" y2="201.0" stroke="#0000ff" stroke-width="1.50" stroke-dasharray="1.6 1.6"/>
<line x1="223.50" y1="190.0" x2="223.50" y2="194.0" stroke="#0000ff" stroke-width="1.20" stroke-dasharray="1.6 1.6"/>
<line x1="229.50" y1="177.0" x2="229.50" y2="192.0" stroke="#0000ff" stroke-width="1.20" stroke-dasharray="1.6 1.6"/>
<line x1="239.00" y1="186.0" x2="239.00" y2="204.0" stroke="#0000ff" stroke-width="1.20" stroke-dasharray="1.6 1.6"/>
<line x1="242.50" y1="192.0" x2="242.50" y2="208.0" stroke="#0000ff" stroke-width="1.20" stroke-dasharray="1.6 1.6"/>
<line x1="251.00" y1="185.0" x2="251.00" y2="192.0" stroke="#0000ff" stroke-width="1.20" stroke-dasharray="1.6 1.6"/>
<line x1="262.00" y1="134.0" x2="262.00" y2="146.5" stroke="#0000ff" stroke-width="1.50" stroke-dasharray="1.6 1.6"/>
<line x1="264.00" y1="134.0" x2="264.00" y2="150.0" stroke="#0000ff" stroke-width="1.50" stroke-dasharray="1.6 1.6"/>
<rect x="270.00" y="186.0" width="2.00" height="26.0" fill="#0000ff"/>
<line x1="271.00" y1="132.0" x2="271.00" y2="150.0" stroke="#0000ff" stroke-width="1.50" stroke-dasharray="1.6 1.6"/>
<path d="M59.5 197.2h1.6v1.6h-1.6zM60.5 134.6h1.6v1.6h-1.6zM67.5 180.8h1.6v1.6h-1.6zM77.5 177.5h1.6v1.6h-1.6zM82.5 184.7h1.6v1.6h-1.6zM92.5 147.4h1.6v1.6h-1.6zM93.5 143.8h1.6v1.6h-1.6zM94.5 193.1h1.6v1.6h-1.6zM98.5 185.8h1.6v1.6h-1.6zM120.5 198.1h1.6v1.6h-1.6zM126.5 152.2h1.6v1.6h-1.6zM129.5 189.6h1.6v1.6h-1.6zM134.5 195.3h1.6v1.6h-1.6zM143.5 180.3h1.6v1.6h-1.6zM146.5 154.1h1.6v1.6h-1.6zM148.5 192.4h1.6v1.6h-1.6zM152.5 146.1h1.6v1.6h-1.6zM162.5 188.4h1.6v1.6h-1.6zM164.5 199.1h1.6v1.6h-1.6zM167.5 188.0h1.6v1.6h-1.6zM168.5 190.9h1.6v1.6h-1.6zM172.5 194.9h1.6v1.6h-1.6zM174.5 143.8h1.6v1.6h-1.6zM176.5 149.4h1.6v1.6h-1.6zM189.5 191.9h1.6v1.6h-1.6zM192.5 187.9h1.6v1.6h-1.6zM195.5 145.1h1.6v1.6h-1.6zM199.5 197.1h1.6v1.6h-1.6zM200.5 148.2h1.6v1.6h-1.6zM204.5 192.4h1.6v1.6h-1.6zM214.5 188.8h1.6v1.6h-1.6zM226.5 197.0h1.6v1.6h-1.6zM229.5 155.6h1.6v1.6h-1.6zM235.5 189.6h1.6v1.6h-1.6zM239.5 154.5h1.6v1.6h-1.6zM245.5 191.0h1.6v1.6h-1.6zM247.5 205.8h1.6v1.6h-1.6zM249.5 149.9h1.6v1.6h-1.6zM252.5 139.1h1.6v1.6h-1.6zM254.5 139.3h1.6v1.6h-1.6zM255.5 137.4h1.6v1.6h-1.6zM256.5 144.9h1.6v1.6h-1.6zM258.5 134.8h1.6v1.6h-1.6zM271.5 145.5h1.6v1.6h-1.6zM272.5 145.6h1.6v1.6h-1.6zM283.5 189.2h1.6v1.6h-1.6z" fill="#0000ff"/>
<path d="M58.5 168.0V175.1M59.5 168.7V174.4M60.5 170.1V175.5M61.5 169.1V175.9M62.5 170.4V177.3M63.5 169.6V173.4M64.5 172.6V176.7M65.5 166.3V171.6M66.5 163.9V172.1M67.5 163.1V172.5M68.5 161.9V170.6M69.5 161.8V167.8M70.5 160.0V169.9M71.5 160.2V165.9M72.5 161.1V170.5M73.5 157.9V169.5M74.5 158.4V174.5M75.5 152.1V171.9M76.5 156.6V168.7M77.5 157.0V172.0M78.5 159.1V170.6M79.5 154.3V167.6M80.5 158.2V176.1M81.5 155.8V169.3M82.5 162.6V173.0M83.5 162.8V175.8M84.5 159.8V179.4M85.5 165.1V177.2M86.5 165.5V180.0M87.5 160.1V176.5M88.5 159.9V172.9M89.5 156.3V177.9M90.5 162.7V178.4M91.5 159.9V174.2M92.5 161.9V172.6M93.5 158.3V176.2M94.5 159.7V179.3M95.5 156.0V171.4M96.5 156.2V177.7M97.5 163.6V176.0M98.5 158.8V174.1M99.5 160.3V172.2M100.5 156.8V170.3M101.5 158.7V165.9M102.5 160.5V172.7M103.5 161.5V173.6M104.5 161.9V173.3M105.5 160.8V171.7M106.5 162.5V174.5M107.5 161.2V173.8M108.5 166.0V174.0M109.5 160.6V169.2M110.5 161.1V174.9M111.5 162.1V172.8M112.5 168.7V173.6M113.5 159.2V168.9M114.5 156.7V168.8M115.5 158.9V172.9M116.5 162.6V176.1M117.5 154.4V177.8M118.5 153.7V175.3M119.5 150.4V175.4M120.5 151.2V167.8M121.5 152.7V170.4M122.5 157.5V170.1M123.5 154.7V170.9M124.5 158.2V168.4M125.5 162.4V175.1M126.5 162.0V170.1M127.5 164.8V174.6M128.5 166.7V179.0M129.5 158.9V168.6M130.5 157.2V172.1M131.5 163.5V177.4M132.5 154.7V175.4M133.5 163.0V180.1M134.5 155.3V179.9M135.5 155.8V174.4M136.5 152.9V169.5M137.5 155.2V174.6M138.5 158.5V178.3M139.5 154.9V172.0M140.5 150.8V179.2M141.5 153.3V168.3M142.5 160.0V171.2M143.5 158.1V172.6M144.5 165.2V175.4M145.5 166.7V176.1M146.5 162.2V173.7M147.5 164.3V174.7M148.5 163.3V175.3M149.5 162.3V173.9M150.5 162.0V176.5M151.5 163.7V172.8M152.5 157.5V174.1M153.5 155.3V172.4M154.5 152.2V171.3M155.5 152.2V177.2M156.5 156.2V179.2M157.5 162.0V177.6M158.5 159.3V178.6M159.5 153.0V177.0M160.5 151.2V176.7M161.5 161.1V173.3M162.5 154.9V174.1M163.5 162.6V172.2M164.5 161.2V171.5M165.5 162.4V174.8M166.5 158.1V168.3M167.5 160.2V173.0M168.5 160.9V170.3M169.5 168.4V174.1M170.5 161.1V174.0M171.5 162.3V173.2M172.5 160.0V172.4M173.5 163.9V172.9M174.5 162.1V171.0M175.5 162.3V172.7M176.5 160.9V174.0M177.5 162.0V171.8M178.5 164.2V180.0M179.5 167.2V183.7M180.5 162.3V179.6M181.5 158.0V186.0M182.5 150.8V180.9M183.5 145.0V171.0M184.5 162.2V186.1M185.5 145.8V174.5M186.5 145.9V174.8M187.5 153.4V184.9M188.5 163.8V184.4M189.5 149.0V183.6M190.5 165.5V183.5M191.5 145.5V173.8M192.5 144.5V181.4M193.5 145.0V177.0M194.5 163.7V179.3M195.5 156.2V171.9M196.5 152.9V167.8M197.5 153.1V165.2M198.5 163.9V174.3M199.5 167.0V173.0M200.5 165.2V174.4M201.5 164.5V172.1M202.5 167.5V173.7M203.5 166.0V172.7M204.5 162.9V174.8M205.5 161.9V171.7M206.5 161.5V181.9M207.5 160.0V183.6M208.5 162.3V185.7M209.5 157.9V172.2M210.5 167.5V181.4M211.5 157.1V174.1M212.5 169.6V182.0M213.5 160.7V172.2M214.5 161.2V179.3M215.5 163.5V176.5M216.5 159.7V175.3M217.5 161.3V174.2M218.5 163.9V170.9M219.5 160.9V174.1M220.5 158.1V170.4M221.5 159.1V174.2M222.5 158.5V178.4M223.5 167.7V179.9M224.5 161.6V175.8M225.5 164.3V175.5M226.5 161.8V172.0M227.5 163.4V176.0M228.5 168.8V175.5M229.5 162.9V173.2M230.5 165.6V173.2M231.5 160.8V176.2M232.5 153.8V175.7M233.5 151.6V172.7M234.5 153.3V178.6M235.5 151.4V174.0M236.5 155.2V169.2M237.5 152.0V164.1M238.5 158.7V170.8M239.5 161.5V176.6M240.5 156.8V172.5M241.5 158.4V178.1M242.5 151.3V175.4M243.5 155.6V176.7M244.5 158.7V177.5M245.5 150.1V170.5M246.5 152.0V177.7M247.5 147.7V178.5M248.5 147.4V178.2M249.5 155.4V179.8M250.5 161.8V179.4M251.5 160.1V177.6M252.5 159.5V174.6M253.5 159.9V168.7M254.5 163.8V174.1M255.5 162.8V173.9M256.5 162.7V171.3M257.5 164.0V173.0M258.5 164.8V173.7M259.5 163.9V172.7M260.5 163.5V173.3M261.5 157.7V168.8M262.5 157.6V166.5M263.5 154.8V168.3M264.5 151.7V172.8M265.5 154.2V175.1M266.5 156.2V177.6M267.5 163.5V179.0M268.5 158.6V175.3M269.5 158.4V175.7M270.5 169.4V179.4M271.5 157.6V176.5M272.5 158.9V178.1M273.5 158.5V173.6M274.5 160.7V180.0M275.5 163.9V179.2M276.5 160.3V174.7M277.5 160.6V175.7M278.5 160.9V173.7M279.5 165.5V173.6M280.5 163.9V178.0M281.5 165.7V176.9M282.5 165.9V176.3M283.5 164.6V178.1M284.5 172.1V179.9M285.5 172.4V180.7M286.5 168.0V180.1M287.5 171.7V180.9M288.5 166.2V181.7M289.5 167.1V173.1M290.5 165.7V176.6" stroke="#00ff00" stroke-width="1.05" fill="none"/>
<rect x="94.60" y="133.0" width="1.80" height="27.0" fill="#00ff00"/>
<rect x="116.60" y="137.5" width="1.80" height="22.5" fill="#00ff00"/>
<line x1="130.00" y1="199.0" x2="130.00" y2="212.0" stroke="#00ff00" stroke-width="1.20" stroke-dasharray="1.6 1.6"/>
<rect x="152.00" y="134.0" width="2.00" height="26.0" fill="#00ff00"/>
<rect x="155.10" y="135.6" width="1.80" height="19.4" fill="#00ff00"/>
<rect x="189.05" y="132.0" width="2.50" height="28.0" fill="#00ff00"/>
<rect x="193.25" y="132.0" width="2.50" height="23.0" fill="#00ff00"/>
<rect x="206.75" y="186.0" width="1.50" height="22.0" fill="#00ff00"/>
<line x1="238.00" y1="186.5" x2="238.00" y2="204.7" stroke="#00ff00" stroke-width="1.20" stroke-dasharray="1.6 1.6"/>
<rect x="241.25" y="132.0" width="2.50" height="28.0" fill="#00ff00"/>
<line x1="267.50" y1="188.0" x2="267.50" y2="197.5" stroke="#00ff00" stroke-width="1.20" stroke-dasharray="1.6 1.6"/>
</g>
<g clip-path="url(#cp11)">
<path d="M305.5 168.2V185.0M306.5 160.9V187.2M307.5 162.7V186.7M308.5 160.2V187.2M309.5 161.6V182.7M310.5 172.7V185.7M311.5 169.8V180.8M312.5 163.6V176.9M313.5 169.3V177.0M314.5 164.6V176.8M315.5 166.3V174.7M318.5 160.5V169.8M319.5 162.1V175.3M320.5 160.2V172.6M321.5 158.5V174.0M322.5 157.4V172.2M323.5 157.8V172.7M324.5 158.3V170.4M325.5 156.3V175.7M326.5 159.6V170.7M327.5 156.4V167.3M328.5 158.0V168.3M329.5 157.8V175.8M330.5 158.9V175.4M331.5 159.0V173.6M332.5 159.4V176.4M333.5 158.8V177.9M334.5 161.6V176.5M335.5 161.3V173.5M336.5 156.7V177.3M337.5 155.5V179.8M338.5 155.2V180.6M339.5 154.1V180.3M340.5 155.7V174.6M341.5 151.8V176.8M342.5 153.2V182.9M343.5 156.8V172.3M344.5 158.5V181.4M345.5 156.1V174.0M346.5 158.2V174.1M347.5 158.2V169.9M348.5 160.7V177.2M349.5 155.3V170.7M350.5 159.7V174.4M351.5 165.5V176.1M352.5 154.2V171.3M353.5 154.4V173.9M354.5 153.6V174.6M355.5 154.2V175.4M356.5 158.9V174.6M357.5 158.9V176.3M358.5 159.2V174.4M359.5 155.4V168.8M360.5 156.4V166.4M361.5 158.1V175.6M362.5 160.1V173.7M363.5 159.2V174.6M364.5 161.2V175.2M365.5 160.0V174.7M366.5 159.9V172.1M367.5 158.8V176.9M368.5 159.7V175.0M369.5 161.0V177.7M370.5 159.2V169.6M371.5 160.5V173.1M372.5 162.7V171.2M373.5 160.6V172.8M374.5 161.1V174.4M375.5 160.9V174.2M376.5 157.9V173.0M377.5 161.1V177.6M378.5 158.0V177.8M379.5 156.1V176.1M380.5 152.2V165.7M381.5 151.8V168.6M382.5 155.4V180.4M383.5 167.6V181.7M384.5 161.5V175.9M385.5 160.7V176.4M386.5 157.7V180.0M387.5 163.0V178.6M388.5 157.3V174.2M389.5 158.0V174.0M390.5 158.7V171.3M391.5 160.0V170.1M392.5 158.3V169.1M393.5 157.4V170.1M394.5 157.1V170.3M395.5 162.2V172.0M396.5 160.7V172.3M397.5 164.0V175.7M398.5 155.5V169.7M399.5 157.1V170.7M400.5 152.8V173.4M401.5 160.1V172.1M402.5 154.1V175.7M403.5 154.6V172.4M404.5 157.7V171.0M405.5 161.3V176.5M406.5 164.5V179.2M407.5 160.2V179.4M408.5 164.0V179.3M409.5 164.5V177.8M410.5 161.5V181.7M411.5 168.7V179.9M412.5 160.6V173.5M413.5 157.2V169.1M414.5 156.3V177.5M415.5 155.7V178.6M416.5 157.2V179.2M417.5 158.4V172.0M418.5 154.1V176.2M419.5 163.2V175.2M420.5 153.7V175.4M421.5 151.9V168.7M422.5 155.9V175.4M423.5 158.9V177.3M424.5 163.5V175.4M425.5 160.5V177.2M426.5 156.6V171.7M427.5 156.6V176.2M428.5 159.9V173.2M429.5 158.4V166.2M430.5 163.4V172.3M431.5 158.4V174.3M432.5 158.5V169.6M433.5 158.9V173.6M434.5 161.9V172.0M435.5 157.1V165.0M436.5 154.6V167.6M437.5 156.5V171.3M438.5 160.4V171.1M439.5 161.9V172.7M440.5 155.4V171.3M441.5 163.5V173.7M442.5 159.6V174.9M443.5 156.3V173.7M444.5 158.7V175.5M445.5 157.6V168.2M446.5 159.0V174.7M447.5 161.9V173.9M448.5 160.0V175.1M449.5 158.3V169.3M450.5 158.0V169.7M451.5 157.5V173.2M452.5 157.7V171.0M453.5 158.4V172.7M454.5 157.7V169.5M455.5 154.7V166.3M456.5 161.8V174.3M457.5 158.0V172.7M458.5 163.1V174.5M459.5 157.8V172.8M460.5 157.5V168.0M461.5 156.8V176.5M462.5 152.1V173.5M463.5 153.6V175.4M464.5 167.1V176.9M465.5 159.5V173.3M466.5 162.8V179.0M467.5 161.3V178.0M468.5 159.8V179.9M469.5 160.6V181.0M470.5 160.8V178.6M471.5 162.7V182.8M472.5 162.6V181.6M473.5 162.3V174.2M474.5 161.8V176.5M475.5 161.0V170.6M476.5 162.0V177.0M477.5 162.0V174.9M478.5 165.4V175.5M479.5 158.9V174.1M480.5 164.7V171.5M481.5 159.9V169.3M482.5 156.0V166.2M483.5 165.3V174.5M484.5 154.6V169.3M485.5 154.6V167.7M486.5 153.7V177.1M487.5 155.9V168.4M488.5 161.9V175.4M489.5 153.3V168.2M490.5 151.8V165.4M491.5 155.0V171.6M492.5 152.8V170.8M493.5 148.6V163.3M494.5 151.5V178.1M495.5 149.2V168.7M496.5 162.6V175.9M497.5 163.6V177.7M498.5 153.2V174.4M499.5 152.7V173.9M500.5 150.7V172.0M501.5 145.8V170.8M502.5 146.4V173.0M503.5 144.4V171.7M504.5 153.6V178.9M505.5 149.6V174.1M506.5 151.0V179.0M507.5 155.7V179.6M508.5 161.1V176.3M509.5 165.7V176.8M510.5 164.8V175.3M511.5 165.6V177.6M512.5 166.5V176.3M513.5 162.2V177.5M514.5 168.3V176.6M515.5 164.9V175.5M516.5 163.5V175.7M517.5 164.4V176.9M518.5 169.5V177.3M519.5 165.8V176.9M520.5 167.8V173.2M521.5 166.7V174.2M522.5 167.1V173.5M523.5 164.6V170.2M524.5 166.1V173.3M525.5 164.7V171.8M526.5 163.7V174.7M527.5 162.7V171.5M528.5 165.6V174.8M529.5 166.5V172.9M530.5 163.4V175.0M531.5 160.1V174.9M532.5 159.6V177.0M533.5 160.7V177.2M534.5 167.1V178.0M535.5 163.8V174.8M536.5 168.4V178.0M537.5 166.4V179.1" stroke="#0000ff" stroke-width="1.05" fill="none"/>
<rect x="306.25" y="185.0" width="1.50" height="9.0" fill="#0000ff"/>
<rect x="336.90" y="204.0" width="1.20" height="2.0" fill="#0000ff"/>
<rect x="337.50" y="180.0" width="1.00" height="3.0" fill="#0000ff"/>
<rect x="414.25" y="132.0" width="3.50" height="28.0" fill="#0000ff"/>
<rect x="413.25" y="150.0" width="5.50" height="26.0" fill="#0000ff"/>
<rect x="424.50" y="132.0" width="3.00" height="38.0" fill="#0000ff"/>
<line x1="486.50" y1="148.0" x2="486.50" y2="156.0" stroke="#0000ff" stroke-width="1.50" stroke-dasharray="1.6 1.6"/>
<rect x="488.25" y="132.0" width="2.50" height="38.0" fill="#0000ff"/>
<line x1="492.00" y1="137.0" x2="492.00" y2="150.0" stroke="#0000ff" stroke-width="1.50" stroke-dasharray="1.6 1.6"/>
<rect x="494.25" y="137.0" width="2.50" height="28.0" fill="#0000ff"/>
<rect x="500.25" y="139.0" width="6.50" height="36.0" fill="#0000ff"/>
<rect x="437.40" y="146.0" width="1.20" height="4.0" fill="#0000ff"/>
<line x1="472.00" y1="183.0" x2="472.00" y2="194.0" stroke="#0000ff" stroke-width="1.20" stroke-dasharray="1.6 1.6"/>
<path d="M339.4 187.5h1.6v1.6h-1.6zM378.4 180.7h1.6v1.6h-1.6zM383.4 149.3h1.6v1.6h-1.6zM426.4 179.9h1.6v1.6h-1.6zM427.4 149.6h1.6v1.6h-1.6zM439.4 173.4h1.6v1.6h-1.6zM447.4 151.9h1.6v1.6h-1.6zM449.4 150.0h1.6v1.6h-1.6zM469.4 183.6h1.6v1.6h-1.6zM479.4 151.5h1.6v1.6h-1.6zM483.4 177.6h1.6v1.6h-1.6zM503.4 183.9h1.6v1.6h-1.6zM513.4 182.2h1.6v1.6h-1.6zM519.4 157.1h1.6v1.6h-1.6zM521.4 156.6h1.6v1.6h-1.6zM526.4 176.3h1.6v1.6h-1.6zM534.4 156.6h1.6v1.6h-1.6zM536.4 164.0h1.6v1.6h-1.6z" fill="#0000ff"/>
<polyline points="305.4,177.9 306.4,181.9 307.4,181.6 308.4,182.8 309.4,180.9 310.4,181.9 311.4,175.6 312.4,178.0 313.4,179.5 314.4,178.6 315.4,177.0" stroke="#00ff00" stroke-width="2.5" fill="none" stroke-linejoin="round"/>
<polyline points="318.4,164.4 319.4,162.3 320.4,162.9 321.4,163.3 322.4,162.9 323.4,165.5 324.4,168.9 325.4,168.4 326.4,168.9 327.4,168.9 328.4,168.9 329.4,168.3 330.4,167.4 331.4,167.9 332.4,167.4 333.4,165.1 334.4,166.2 335.4,167.0 336.4,170.6 337.4,164.7 338.4,166.7 339.4,167.6 340.4,170.6 341.4,172.8 342.4,170.8 343.4,174.0 344.4,173.1 345.4,172.2 346.4,168.7 347.4,160.7 348.4,160.6 349.4,160.2 350.4,165.1 351.4,167.3 352.4,166.3 353.4,162.0 354.4,159.9 355.4,163.6 356.4,161.5 357.4,162.4 358.4,166.8 359.4,168.7 360.4,169.5 361.4,166.3 362.4,162.6 363.4,156.8 364.4,156.8 365.4,158.1 366.4,159.4 367.4,161.6 368.4,163.5 369.4,168.5 370.4,170.6 371.4,169.5 372.4,168.0 373.4,167.6 374.4,167.3 375.4,167.8 376.4,166.5 377.4,167.6 378.4,166.6 379.4,167.0 380.4,170.5 381.4,169.6 382.4,172.0 383.4,173.6 384.4,170.3 385.4,169.9 386.4,168.8 387.4,170.0 388.4,171.3 389.4,169.4 390.4,168.9 391.4,166.0 392.4,164.4 393.4,164.1 394.4,163.3 395.4,162.3 396.4,162.8 397.4,164.3 398.4,166.3 399.4,165.8 400.4,166.8 401.4,167.9 402.4,169.0 403.4,168.1 404.4,168.2 405.4,167.6 406.4,167.2 407.4,167.3 408.4,171.2 409.4,171.2 410.4,169.7 411.4,170.4 412.4,172.9 413.4,170.6 414.4,165.8 415.4,164.6 416.4,163.3 417.4,171.0 418.4,171.9 419.4,166.0 420.4,165.3 421.4,168.8 422.4,168.2 423.4,167.2 424.4,165.3 425.4,165.1 426.4,166.0 427.4,164.4 428.4,167.0 429.4,165.4 430.4,164.5 431.4,165.3 432.4,165.2 433.4,166.0 434.4,158.2 435.4,161.1 436.4,159.2 437.4,158.0 438.4,164.1 439.4,164.4 440.4,161.6 441.4,162.1 442.4,163.3 443.4,164.2 444.4,164.7 445.4,165.0 446.4,164.2 447.4,165.2 448.4,167.1 449.4,166.5 450.4,162.7 451.4,165.9 452.4,167.0 453.4,167.0 454.4,167.9 455.4,168.9 456.4,168.7 457.4,167.1 458.4,167.3 459.4,166.6 460.4,165.1 461.4,167.9 462.4,164.3 463.4,164.6 464.4,166.4 465.4,170.3 466.4,172.5 467.4,169.9 468.4,174.2 469.4,172.4 470.4,173.8 471.4,175.9 472.4,175.0 473.4,172.9 474.4,164.1 475.4,164.6 476.4,168.8 477.4,167.7 478.4,163.3 479.4,164.2 480.4,166.8 481.4,167.2 482.4,166.8 483.4,165.9 484.4,165.7 485.4,165.4 486.4,164.9 487.4,167.8 488.4,166.3 489.4,167.0 490.4,162.4 491.4,165.1 492.4,166.0 493.4,166.4 494.4,165.3 495.4,167.9 496.4,169.2 497.4,168.0 498.4,168.9 499.4,167.7 500.4,168.0 501.4,166.6 502.4,169.6 503.4,166.3 504.4,163.2 505.4,165.8 506.4,168.3 507.4,169.6 508.4,168.3 509.4,168.9 510.4,167.9 511.4,168.1 512.4,168.6 513.4,169.9 514.4,168.0 515.4,168.2 516.4,167.9 517.4,167.8 518.4,167.8 519.4,168.0 520.4,169.3 521.4,169.7 522.4,168.9 523.4,168.5 524.4,168.3 525.4,168.3 526.4,168.1 527.4,167.3 528.4,168.9 529.4,167.7 530.4,167.4 531.4,169.2 532.4,171.5 533.4,172.6 534.4,174.5 535.4,174.3 536.4,178.0 537.4,179.2" stroke="#00ff00" stroke-width="2.5" fill="none" stroke-linejoin="round"/>
<rect x="309.50" y="190.0" width="1.00" height="3.0" fill="#00ff00"/>
<rect x="336.90" y="195.0" width="1.20" height="2.0" fill="#00ff00"/>
<line x1="490.00" y1="178.0" x2="490.00" y2="194.0" stroke="#00ff00" stroke-width="1.50" stroke-dasharray="1.6 1.6"/>
</g>
<g clip-path="url(#cp20)">
<path d="M58.5 237.9V279.4M59.5 240.3V280.9M60.5 232.9V267.5M61.5 251.1V279.1M62.5 251.9V283.0M63.5 252.1V272.1M64.5 262.4V281.8M65.5 257.0V279.1M66.5 259.4V275.2M67.5 266.0V277.4M68.5 262.1V278.0M69.5 260.7V274.6M70.5 265.1V273.7M71.5 261.4V269.6M72.5 261.5V271.1M73.5 256.0V273.5M74.5 253.6V274.3M75.5 251.7V274.4M76.5 248.4V277.8M77.5 251.5V272.1M78.5 256.9V280.1M79.5 251.1V284.1M80.5 257.3V283.4M81.5 254.7V275.2M82.5 250.3V278.8M83.5 260.8V279.5M84.5 253.6V274.4M85.5 251.0V281.8M86.5 248.9V280.8M87.5 248.9V270.5M88.5 254.1V281.1M89.5 257.9V279.2M90.5 260.7V278.5M91.5 251.0V274.8M92.5 256.2V277.6M93.5 260.2V281.4M94.5 246.2V276.3M95.5 256.3V282.0M96.5 252.6V280.6M97.5 250.8V283.7M98.5 254.1V287.8M99.5 252.8V279.4M100.5 255.6V282.8M101.5 259.4V275.7M102.5 264.1V282.1M103.5 266.2V280.4M104.5 257.0V280.2M105.5 257.5V278.7M106.5 262.1V282.0M107.5 253.9V271.8M108.5 258.8V278.3M109.5 257.1V276.5M110.5 254.6V271.9M111.5 252.9V273.2M112.5 254.8V269.9M113.5 251.8V272.6M114.5 254.6V270.8M115.5 254.7V270.4M116.5 255.7V272.7M117.5 258.1V276.7M118.5 269.0V283.9M119.5 264.0V281.9M120.5 261.9V291.3M121.5 262.9V290.6M122.5 266.0V288.8M123.5 273.2V293.3M124.5 264.3V287.9M125.5 263.7V283.3M126.5 258.9V283.2M127.5 256.5V279.3M128.5 252.0V279.2M129.5 250.2V273.0M130.5 256.5V274.4M131.5 251.6V268.3M132.5 255.0V267.9M133.5 255.7V267.5M134.5 256.5V268.5M135.5 253.3V270.0M136.5 253.9V269.3M137.5 255.8V265.6M138.5 257.9V270.8M139.5 256.0V270.2M140.5 261.9V274.5M141.5 260.4V272.9M142.5 256.6V272.4M143.5 258.7V270.7M144.5 258.0V275.8M145.5 254.2V273.8M146.5 255.3V272.1M147.5 255.3V274.4M148.5 253.6V275.1M149.5 254.4V278.7M150.5 262.1V281.3M151.5 264.2V280.5M152.5 257.4V281.4M153.5 260.8V282.2M154.5 259.9V283.2M155.5 258.9V281.0M156.5 252.4V275.3M157.5 251.1V268.9M158.5 248.1V273.4M159.5 255.3V278.4M160.5 248.3V269.3M161.5 251.3V278.2M162.5 251.6V274.5M163.5 251.5V278.0M164.5 249.8V280.2M165.5 255.2V279.6M166.5 248.3V278.1M167.5 244.1V268.6M168.5 247.9V271.3M169.5 245.2V275.8M170.5 245.1V280.1M171.5 246.4V275.1M172.5 256.3V284.5M173.5 242.1V270.7M174.5 253.9V281.5M175.5 245.1V272.4M176.5 243.8V278.9M177.5 248.5V274.4M178.5 251.9V283.1M179.5 257.8V280.5M180.5 252.7V281.6M181.5 254.5V285.1M182.5 257.9V287.2M183.5 255.4V286.3M184.5 260.9V282.3M185.5 252.4V279.0M186.5 252.4V275.5M187.5 249.2V270.9M188.5 247.1V268.4M189.5 243.1V279.4M190.5 248.5V275.8M191.5 238.2V270.1M192.5 239.3V281.1M193.5 237.3V281.6M194.5 238.4V271.5M195.5 248.0V272.1M196.5 245.2V278.4M197.5 243.9V269.2M198.5 244.7V275.3M199.5 247.5V269.5M200.5 247.6V269.7M201.5 251.2V271.8M202.5 248.8V273.3M203.5 250.5V271.5M204.5 248.9V270.4M205.5 251.7V271.3M206.5 258.1V278.8M207.5 256.6V279.9M208.5 254.7V277.0M209.5 254.6V280.1M210.5 259.1V279.1M211.5 248.8V278.0M212.5 256.4V280.1M213.5 248.5V271.9M214.5 248.5V279.0M215.5 251.1V283.2M216.5 256.5V282.7M217.5 253.0V280.8M218.5 250.1V268.7M219.5 246.2V264.3M220.5 245.0V270.3M221.5 247.6V271.1M222.5 245.0V275.6M223.5 246.6V279.3M224.5 250.5V276.7M225.5 245.5V268.2M226.5 245.9V274.3M227.5 244.0V263.4M228.5 247.6V261.8M229.5 248.0V271.5M230.5 250.7V270.0M231.5 251.6V276.1M232.5 243.4V275.3M233.5 249.8V272.7M234.5 243.9V272.3M235.5 244.3V274.0M236.5 251.3V272.1M237.5 242.4V275.1M238.5 240.7V274.9M239.5 240.0V272.5M240.5 243.4V267.8M241.5 238.7V275.7M242.5 244.4V272.9M243.5 238.5V274.6M244.5 247.6V276.6M245.5 239.8V270.5M246.5 242.6V276.6M247.5 241.6V267.1M248.5 247.7V276.5M249.5 245.3V281.7M250.5 246.1V282.8M251.5 243.6V283.4M252.5 253.1V281.8M253.5 254.2V277.1M254.5 252.1V273.9M255.5 251.3V273.8M256.5 258.9V275.7M257.5 253.5V274.4M258.5 250.9V272.4M259.5 256.5V275.8M260.5 249.4V269.0M261.5 252.3V277.9M262.5 257.2V276.7M263.5 252.7V268.7M264.5 258.4V272.2M265.5 257.5V274.0M266.5 257.6V281.6M267.5 262.1V287.6M268.5 266.1V287.6M269.5 258.7V278.6M270.5 254.2V272.5M271.5 256.8V278.2M272.5 252.1V274.9M273.5 252.6V267.7M274.5 252.9V273.9M275.5 256.3V269.9M276.5 252.4V274.6M277.5 253.6V271.6M278.5 254.7V274.9M279.5 255.5V278.0M280.5 253.6V276.0M281.5 258.4V277.1M282.5 255.6V284.6M283.5 254.7V285.8M284.5 255.2V284.7M285.5 253.1V283.8M286.5 255.6V281.7M287.5 254.0V279.0M288.5 252.8V275.8M289.5 260.9V277.2M290.5 257.1V278.0" stroke="#0000ff" stroke-width="1.05" fill="none"/>
<rect x="57.75" y="229.5" width="2.50" height="20.5" fill="#0000ff"/>
<line x1="77.50" y1="284.0" x2="77.50" y2="291.0" stroke="#0000ff" stroke-width="1.20" stroke-dasharray="1.6 1.6"/>
<line x1="81.00" y1="229.5" x2="81.00" y2="260.0" stroke="#0000ff" stroke-width="1.50" stroke-dasharray="1.6 1.6"/>
<line x1="85.00" y1="282.0" x2="85.00" y2="298.5" stroke="#0000ff" stroke-width="1.50" stroke-dasharray="1.6 1.6"/>
<line x1="93.00" y1="280.0" x2="93.00" y2="289.5" stroke="#0000ff" stroke-width="1.20" stroke-dasharray="1.6 1.6"/>
<line x1="96.00" y1="229.5" x2="96.00" y2="238.0" stroke="#0000ff" stroke-width="1.50" stroke-dasharray="1.6 1.6"/>
<line x1="96.50" y1="288.0" x2="96.50" y2="300.0" stroke="#0000ff" stroke-width="1.50" stroke-dasharray="1.6 1.6"/>
<line x1="114.00" y1="233.0" x2="114.00" y2="255.0" stroke="#0000ff" stroke-width="1.50" stroke-dasharray="1.6 1.6"/>
<rect x="120.25" y="282.0" width="1.50" height="11.0" fill="#0000ff"/>
<line x1="139.00" y1="288.0" x2="139.00" y2="293.0" stroke="#0000ff" stroke-width="1.20" stroke-dasharray="1.6 1.6"/>
<line x1="143.50" y1="225.0" x2="143.50" y2="231.0" stroke="#0000ff" stroke-width="1.50" stroke-dasharray="1.6 1.6"/>
<line x1="158.00" y1="229.5" x2="158.00" y2="242.0" stroke="#0000ff" stroke-width="1.50" stroke-dasharray="1.6 1.6"/>
<rect x="159.25" y="242.0" width="1.50" height="18.0" fill="#0000ff"/>
<rect x="165.75" y="231.0" width="1.50" height="14.0" fill="#0000ff"/>
<rect x="167.50" y="224.0" width="5.00" height="28.0" fill="#0000ff"/>
<rect x="168.50" y="280.0" width="2.00" height="24.0" fill="#0000ff"/>
<line x1="175.00" y1="285.0" x2="175.00" y2="293.0" stroke="#0000ff" stroke-width="1.20" stroke-dasharray="1.6 1.6"/>
<line x1="189.50" y1="285.0" x2="189.50" y2="300.0" stroke="#0000ff" stroke-width="1.20" stroke-dasharray="1.6 1.6"/>
<line x1="192.00" y1="238.0" x2="192.00" y2="250.0" stroke="#0000ff" stroke-width="1.50" stroke-dasharray="1.6 1.6"/>
<line x1="197.00" y1="229.5" x2="197.00" y2="260.0" stroke="#0000ff" stroke-width="1.50" stroke-dasharray="1.6 1.6"/>
<line x1="197.50" y1="287.0" x2="197.50" y2="300.0" stroke="#0000ff" stroke-width="1.20" stroke-dasharray="1.6 1.6"/>
<line x1="200.00" y1="231.0" x2="200.00" y2="238.0" stroke="#0000ff" stroke-width="1.20" stroke-dasharray="1.6 1.6"/>
<rect x="205.50" y="284.0" width="2.00" height="20.0" fill="#0000ff"/>
<line x1="213.00" y1="284.0" x2="213.00" y2="291.0" stroke="#0000ff" stroke-width="1.20" stroke-dasharray="1.6 1.6"/>
<line x1="216.50" y1="229.5" x2="216.50" y2="236.0" stroke="#0000ff" stroke-width="1.50" stroke-dasharray="1.6 1.6"/>
<line x1="227.00" y1="231.0" x2="227.00" y2="242.0" stroke="#0000ff" stroke-width="1.50" stroke-dasharray="1.6 1.6"/>
<line x1="230.50" y1="231.0" x2="230.50" y2="235.0" stroke="#0000ff" stroke-width="1.20" stroke-dasharray="1.6 1.6"/>
<rect x="245.00" y="224.0" width="2.00" height="26.0" fill="#0000ff"/>
<line x1="250.00" y1="233.0" x2="250.00" y2="235.0" stroke="#0000ff" stroke-width="1.20" stroke-dasharray="1.6 1.6"/>
<line x1="261.00" y1="286.0" x2="261.00" y2="300.0" stroke="#0000ff" stroke-width="1.20" stroke-dasharray="1.6 1.6"/>
<line x1="268.00" y1="224.0" x2="268.00" y2="228.0" stroke="#0000ff" stroke-width="1.50" stroke-dasharray="1.6 1.6"/>
<line x1="267.50" y1="280.0" x2="267.50" y2="304.0" stroke="#0000ff" stroke-width="1.20" stroke-dasharray="1.6 1.6"/>
<line x1="275.00" y1="293.0" x2="275.00" y2="297.0" stroke="#0000ff" stroke-width="1.20" stroke-dasharray="1.6 1.6"/>
<line x1="281.00" y1="280.0" x2="281.00" y2="289.5" stroke="#0000ff" stroke-width="1.20" stroke-dasharray="1.6 1.6"/>
<path d="M60.5 289.9h1.6v1.6h-1.6zM68.5 279.2h1.6v1.6h-1.6zM75.5 282.1h1.6v1.6h-1.6zM87.5 284.7h1.6v1.6h-1.6zM98.5 293.3h1.6v1.6h-1.6zM100.5 289.8h1.6v1.6h-1.6zM101.5 243.6h1.6v1.6h-1.6zM120.5 251.3h1.6v1.6h-1.6zM123.5 300.2h1.6v1.6h-1.6zM126.5 255.1h1.6v1.6h-1.6zM137.5 247.3h1.6v1.6h-1.6zM143.5 283.5h1.6v1.6h-1.6zM153.5 244.6h1.6v1.6h-1.6zM156.5 288.5h1.6v1.6h-1.6zM162.5 288.4h1.6v1.6h-1.6zM163.5 234.2h1.6v1.6h-1.6zM169.5 232.9h1.6v1.6h-1.6zM171.5 229.5h1.6v1.6h-1.6zM173.5 291.3h1.6v1.6h-1.6zM184.5 300.2h1.6v1.6h-1.6zM191.5 227.8h1.6v1.6h-1.6zM199.5 279.5h1.6v1.6h-1.6zM201.5 280.4h1.6v1.6h-1.6zM203.5 236.1h1.6v1.6h-1.6zM205.5 284.5h1.6v1.6h-1.6zM207.5 248.4h1.6v1.6h-1.6zM211.5 291.9h1.6v1.6h-1.6zM212.5 291.2h1.6v1.6h-1.6zM223.5 236.9h1.6v1.6h-1.6zM233.5 285.7h1.6v1.6h-1.6zM235.5 285.1h1.6v1.6h-1.6zM239.5 282.9h1.6v1.6h-1.6zM246.5 289.8h1.6v1.6h-1.6zM253.5 241.2h1.6v1.6h-1.6zM255.5 284.9h1.6v1.6h-1.6zM257.5 241.0h1.6v1.6h-1.6zM258.5 283.8h1.6v1.6h-1.6zM264.5 245.1h1.6v1.6h-1.6zM268.5 252.2h1.6v1.6h-1.6zM275.5 283.4h1.6v1.6h-1.6zM289.5 241.9h1.6v1.6h-1.6z" fill="#0000ff"/>
<path d="M58.5 250.7V276.1M59.5 258.0V271.2M60.5 252.2V277.0M61.5 257.4V276.8M62.5 255.6V278.6M63.5 264.9V278.9M64.5 256.8V274.0M65.5 259.6V272.2M66.5 264.9V274.3M67.5 260.9V274.0M68.5 258.2V270.4M69.5 263.0V274.5M70.5 262.0V272.7M71.5 266.5V275.3M72.5 264.6V270.7M73.5 257.7V276.0M74.5 257.2V271.9M75.5 251.3V275.1M76.5 259.5V273.3M77.5 255.1V276.1M78.5 257.2V270.5M79.5 254.9V273.5M80.5 250.5V265.3M81.5 248.9V273.2M82.5 248.4V277.0M83.5 246.3V277.6M84.5 251.0V275.1M85.5 247.6V265.2M86.5 248.1V272.6M87.5 249.3V275.6M88.5 250.7V274.2M89.5 252.3V272.8M90.5 263.8V276.4M91.5 256.4V269.3M92.5 251.6V270.2M93.5 257.3V271.0M94.5 252.7V271.6M95.5 264.4V274.9M96.5 256.3V275.5M97.5 253.4V276.4M98.5 251.8V276.2M99.5 255.2V272.5M100.5 251.6V275.5M101.5 254.4V266.7M102.5 252.5V274.0M103.5 256.8V274.5M104.5 258.1V271.4M105.5 254.3V273.2M106.5 255.2V274.2M107.5 257.1V274.4M108.5 261.2V273.5M109.5 257.5V272.9M110.5 255.4V269.9M111.5 257.6V265.9M112.5 258.2V266.0M113.5 256.7V267.2M114.5 255.6V264.1M115.5 254.5V266.4M116.5 253.3V265.4M117.5 254.9V271.5M118.5 263.7V274.3M119.5 263.9V274.8M120.5 260.3V277.6M121.5 266.7V273.7M122.5 262.2V279.1M123.5 263.1V274.7M124.5 261.7V278.8M125.5 260.7V278.0M126.5 264.0V279.8M127.5 261.0V277.8M128.5 263.1V275.3M129.5 266.1V280.9M130.5 266.6V282.0M131.5 265.4V283.2M132.5 252.4V269.2M133.5 253.2V280.3M134.5 261.4V278.8M135.5 254.6V277.4M136.5 264.7V275.4M137.5 261.0V275.3M138.5 262.6V277.9M139.5 254.7V270.2M140.5 252.3V270.7M141.5 259.3V274.2M142.5 254.8V274.4M143.5 256.2V271.3M144.5 261.4V272.6M145.5 255.7V271.9M146.5 259.9V275.5M147.5 247.1V268.1M148.5 246.8V273.0M149.5 254.1V270.4M150.5 255.3V274.4M151.5 255.2V274.4M152.5 256.4V273.2M153.5 260.0V271.6M154.5 256.6V276.6M155.5 250.3V276.0M156.5 253.1V271.8M157.5 244.9V268.9M158.5 241.6V274.0M159.5 242.3V278.0M160.5 250.4V269.6M161.5 245.7V280.9M162.5 248.3V269.5M163.5 245.1V284.2M164.5 244.1V277.0M165.5 250.8V270.1M166.5 247.9V267.4M167.5 258.0V278.2M168.5 254.6V276.6M169.5 253.2V269.1M170.5 256.7V272.7M171.5 256.8V277.3M172.5 258.1V276.3M173.5 252.8V275.3M174.5 257.2V273.0M175.5 254.0V272.7M176.5 257.8V277.7M177.5 241.3V269.4M178.5 246.1V275.9M179.5 235.5V257.8M180.5 231.6V270.5M181.5 232.3V280.2M182.5 245.5V276.7M183.5 237.5V280.0M184.5 230.5V273.6M185.5 240.1V282.9M186.5 239.3V275.7M187.5 229.9V277.0M188.5 236.8V272.0M189.5 236.2V281.9M190.5 234.5V273.3M191.5 240.8V266.8M192.5 235.8V278.3M193.5 236.1V273.0M194.5 237.4V279.0M195.5 244.7V277.1M196.5 240.8V277.4M197.5 239.7V258.8M198.5 240.6V265.4M199.5 242.2V269.2M200.5 252.0V272.9M201.5 246.0V275.2M202.5 253.2V277.5M203.5 251.0V275.6M204.5 253.4V276.7M205.5 255.8V274.9M206.5 252.2V266.9M207.5 255.9V273.7M208.5 255.7V271.9M209.5 249.3V272.1M210.5 245.1V276.0M211.5 244.7V262.4M212.5 243.2V268.9M213.5 256.1V272.6M214.5 249.0V273.6M215.5 254.3V273.5M216.5 251.4V265.2M217.5 249.6V271.3M218.5 256.0V275.4M219.5 254.7V269.0M220.5 251.5V268.0M221.5 248.8V279.4M222.5 245.6V272.6M223.5 257.5V280.5M224.5 258.7V278.9M225.5 254.6V272.2M226.5 254.6V278.0M227.5 244.3V273.0M228.5 248.5V266.6M229.5 241.0V277.2M230.5 251.0V270.0M231.5 246.0V275.3M232.5 239.3V276.4M233.5 237.4V267.2M234.5 246.4V269.7M235.5 241.5V275.9M236.5 236.0V278.7M237.5 239.0V267.3M238.5 248.1V269.7M239.5 240.0V273.1M240.5 240.3V269.4M241.5 233.8V273.4M242.5 234.3V272.6M243.5 233.9V275.5M244.5 250.1V274.5M245.5 239.4V263.9M246.5 240.9V267.5M247.5 244.5V283.5M248.5 245.2V277.7M249.5 245.6V274.2M250.5 246.6V275.3M251.5 250.0V273.8M252.5 253.6V270.8M253.5 256.5V270.2M254.5 256.6V265.9M255.5 255.8V268.2M256.5 257.5V268.4M257.5 257.2V273.6M258.5 260.0V274.1M259.5 258.1V275.1M260.5 257.6V273.3M261.5 256.4V272.7M262.5 259.9V272.6M263.5 254.4V275.6M264.5 252.7V279.0M265.5 258.8V278.3M266.5 258.0V274.7M267.5 258.5V282.6M268.5 250.6V280.7M269.5 251.3V284.3M270.5 256.7V282.2M271.5 264.9V281.0M272.5 253.9V283.6M273.5 262.0V276.8M274.5 251.1V268.9M275.5 253.3V271.6M276.5 253.5V274.6M277.5 253.0V275.9M278.5 257.1V276.6M279.5 257.3V273.8M280.5 266.5V277.4M281.5 258.7V271.7M282.5 258.9V274.3M283.5 263.7V278.5M284.5 260.1V278.1M285.5 261.2V269.9M286.5 259.1V275.3M287.5 261.2V272.8M288.5 262.3V274.0M289.5 265.6V275.0M290.5 260.3V272.1" stroke="#00ff00" stroke-width="1.05" fill="none"/>
<line x1="81.50" y1="224.0" x2="81.50" y2="250.0" stroke="#00ff00" stroke-width="2.00" stroke-dasharray="1.6 1.6"/>
<rect x="80.00" y="240.0" width="2.00" height="20.0" fill="#00ff00"/>
<rect x="94.75" y="276.0" width="1.50" height="20.7" fill="#00ff00"/>
<line x1="129.50" y1="282.0" x2="129.50" y2="304.0" stroke="#00ff00" stroke-width="1.50" stroke-dasharray="1.6 1.6"/>
<line x1="135.50" y1="280.0" x2="135.50" y2="304.0" stroke="#00ff00" stroke-width="1.20" stroke-dasharray="1.6 1.6"/>
<line x1="139.00" y1="227.6" x2="139.00" y2="250.0" stroke="#00ff00" stroke-width="1.50" stroke-dasharray="1.6 1.6"/>
<rect x="145.60" y="235.0" width="1.80" height="15.0" fill="#00ff00"/>
<line x1="155.00" y1="224.0" x2="155.00" y2="250.0" stroke="#00ff00" stroke-width="2.00" stroke-dasharray="1.6 1.6"/>
<rect x="157.60" y="231.0" width="1.80" height="14.0" fill="#00ff00"/>
<rect x="161.00" y="231.0" width="2.00" height="19.0" fill="#00ff00"/>
<rect x="161.25" y="270.0" width="2.50" height="34.0" fill="#00ff00"/>
<rect x="179.75" y="278.0" width="2.50" height="22.0" fill="#00ff00"/>
<rect x="183.50" y="280.0" width="2.00" height="16.0" fill="#00ff00"/>
<line x1="191.00" y1="280.0" x2="191.00" y2="298.0" stroke="#00ff00" stroke-width="1.50" stroke-dasharray="1.6 1.6"/>
<line x1="172.00" y1="280.0" x2="172.00" y2="304.0" stroke="#00ff00" stroke-width="1.50" stroke-dasharray="1.6 1.6"/>
<rect x="178.25" y="224.0" width="2.50" height="21.0" fill="#00ff00"/>
<rect x="180.75" y="224.0" width="2.50" height="26.0" fill="#00ff00"/>
<line x1="183.00" y1="285.0" x2="183.00" y2="300.0" stroke="#00ff00" stroke-width="1.50" stroke-dasharray="1.6 1.6"/>
<rect x="185.50" y="224.0" width="2.00" height="16.0" fill="#00ff00"/>
<rect x="208.50" y="224.0" width="2.00" height="26.0" fill="#00ff00"/>
<line x1="216.00" y1="224.0" x2="216.00" y2="250.0" stroke="#00ff00" stroke-width="1.50" stroke-dasharray="1.6 1.6"/>
<line x1="223.00" y1="282.0" x2="223.00" y2="287.6" stroke="#00ff00" stroke-width="1.20" stroke-dasharray="1.6 1.6"/>
<rect x="240.00" y="224.0" width="2.00" height="21.0" fill="#00ff00"/>
<line x1="244.00" y1="240.0" x2="244.00" y2="304.0" stroke="#00ff00" stroke-width="1.50" stroke-dasharray="1.6 1.6"/>
<rect x="266.10" y="224.0" width="2.80" height="80.0" fill="#00ff00"/>
<line x1="270.00" y1="280.0" x2="270.00" y2="304.0" stroke="#00ff00" stroke-width="1.50" stroke-dasharray="1.6 1.6"/>
</g>
<g clip-path="url(#cp21)">
<path d="M305.5 241.4V268.8M306.5 249.9V266.7M307.5 253.5V271.7M308.5 245.6V270.1M309.5 250.4V270.8M310.5 252.4V272.2M311.5 253.9V273.0M312.5 248.6V272.3M313.5 254.3V273.4M314.5 255.8V268.1M315.5 249.3V266.1M318.5 253.4V257.1M319.5 247.8V257.6M320.5 245.4V257.8M321.5 247.1V253.2M322.5 245.4V255.5M323.5 244.0V252.5M324.5 248.3V256.8M325.5 245.1V260.4M326.5 248.8V262.6M327.5 248.9V266.2M328.5 253.8V267.2M329.5 251.0V272.4M330.5 258.5V273.9M331.5 258.2V273.6M332.5 258.3V269.6M333.5 263.0V274.2M334.5 259.0V271.1M335.5 256.6V275.2M336.5 264.3V275.1M337.5 257.0V275.6M338.5 257.2V270.5M339.5 263.7V276.6M340.5 255.6V272.5M341.5 262.4V273.0M342.5 256.7V280.7M343.5 260.6V275.9M344.5 264.0V277.5M345.5 250.9V275.2M346.5 248.5V274.3M347.5 252.2V267.0M348.5 254.8V275.6M349.5 256.3V276.1M350.5 263.5V274.3M351.5 263.3V274.5M352.5 262.2V274.6M353.5 261.8V278.0M354.5 264.1V276.9M355.5 262.1V271.8M356.5 266.1V277.2M357.5 261.1V276.1M358.5 261.5V274.8M359.5 258.2V269.9M360.5 256.6V265.3M361.5 253.8V267.8M362.5 251.9V265.9M363.5 249.5V270.4M364.5 249.5V271.5M365.5 252.6V265.9M366.5 254.6V275.6M367.5 258.0V276.7M368.5 262.6V275.9M369.5 263.1V280.3M370.5 267.6V282.9M371.5 264.5V274.5M372.5 270.1V281.0M373.5 269.4V277.4M374.5 263.5V274.6M375.5 262.2V273.6M376.5 260.3V278.6M377.5 260.2V277.1M378.5 261.2V277.9M379.5 259.8V276.4M380.5 259.7V279.4M381.5 264.3V274.1M382.5 265.6V277.6M383.5 262.4V279.9M384.5 261.4V277.9M385.5 260.7V281.1M386.5 264.5V276.7M387.5 264.1V276.4M388.5 262.3V276.2M389.5 265.3V277.1M390.5 261.3V271.6M391.5 262.8V277.3M392.5 262.0V276.7M393.5 264.0V272.3M394.5 261.3V275.6M395.5 263.0V275.7M396.5 260.8V276.4M397.5 260.1V272.5M398.5 260.5V272.9M399.5 257.9V274.2M400.5 256.5V274.1M401.5 253.6V266.1M402.5 256.2V275.8M403.5 256.8V274.3M404.5 252.4V266.8M405.5 260.5V277.1M406.5 249.0V275.4M407.5 256.2V276.7M408.5 252.7V275.4M409.5 256.9V270.0M410.5 259.9V271.4M411.5 262.2V278.3M412.5 259.2V272.1M413.5 257.9V275.9M414.5 260.3V270.5M415.5 265.6V276.6M416.5 259.2V275.6M417.5 258.4V270.2M418.5 258.2V274.2M419.5 260.0V274.1M420.5 262.8V270.7M421.5 261.2V268.5M422.5 263.4V272.0M423.5 261.6V270.0M424.5 262.7V274.3M425.5 258.8V275.3M426.5 257.8V276.9M427.5 258.0V277.6M428.5 264.7V275.8M429.5 258.5V276.0M430.5 259.6V270.3M431.5 263.3V275.3M432.5 259.2V275.4M433.5 259.2V275.2M434.5 262.7V272.4M435.5 257.7V273.8M436.5 264.1V274.1M437.5 259.7V275.6M438.5 259.2V277.0M439.5 259.6V276.1M440.5 263.1V277.0M441.5 260.1V278.0M442.5 255.8V273.9M443.5 264.1V274.2M444.5 253.9V274.0M445.5 251.8V263.7M446.5 255.7V265.8M447.5 252.3V271.2M448.5 252.2V268.9M449.5 255.0V273.1M450.5 256.8V274.4M451.5 258.2V275.9M452.5 256.4V275.8M453.5 256.5V271.4M454.5 257.2V276.0M455.5 256.0V274.0M456.5 253.9V278.3M457.5 257.7V282.5M458.5 255.7V280.3M459.5 255.8V278.7M460.5 253.3V267.4M461.5 249.1V268.8M462.5 248.2V261.9M463.5 253.8V271.2M464.5 249.5V269.2M465.5 248.7V264.2M466.5 245.8V267.6M467.5 251.6V273.5M468.5 250.6V271.2M469.5 252.4V271.3M470.5 257.1V273.9M471.5 261.9V268.9M472.5 257.1V271.0M473.5 258.6V270.0M474.5 255.7V268.8M475.5 255.4V272.8M476.5 258.2V269.5M477.5 259.1V275.2M478.5 257.8V274.6M479.5 251.0V274.2M480.5 251.4V279.1M481.5 252.9V278.1M482.5 252.0V277.2M483.5 253.6V278.1M484.5 262.3V275.3M485.5 255.6V273.5M486.5 261.6V276.0M487.5 257.6V273.0M488.5 265.5V278.6M489.5 263.8V281.5M490.5 260.8V284.1M491.5 258.5V280.3M492.5 258.2V283.6M493.5 263.9V280.3M494.5 257.8V279.8M495.5 259.0V278.1M496.5 262.8V278.4M497.5 259.4V278.3M498.5 257.4V274.9M499.5 256.5V271.0M500.5 256.4V269.6M501.5 257.4V274.2M502.5 263.4V272.4M503.5 258.8V272.3M504.5 253.3V267.1M505.5 252.1V268.1M506.5 248.4V266.5M507.5 249.3V267.8M508.5 250.9V263.8M509.5 251.5V264.2M510.5 252.2V268.6M511.5 261.5V270.6M512.5 258.2V269.3M513.5 257.6V271.5M514.5 259.9V268.8M515.5 259.6V270.1M516.5 257.6V267.5M517.5 258.4V271.9M518.5 257.6V269.7M519.5 253.8V270.2M520.5 251.8V267.6M521.5 250.2V265.4M522.5 248.9V262.9M523.5 254.1V264.5M524.5 251.2V268.3M525.5 250.8V265.1M526.5 250.0V265.0M527.5 255.1V268.4M528.5 256.2V269.3M529.5 253.8V272.1M530.5 263.9V275.2M531.5 255.4V274.3M532.5 257.5V274.5M533.5 257.2V267.4M534.5 260.1V271.6M535.5 264.1V272.1M536.5 260.5V269.7M537.5 264.3V271.6" stroke="#0000ff" stroke-width="1.05" fill="none"/>
<rect x="313.95" y="246.0" width="1.50" height="18.0" fill="#0000ff"/>
<line x1="337.50" y1="280.0" x2="337.50" y2="291.0" stroke="#0000ff" stroke-width="1.50" stroke-dasharray="1.6 1.6"/>
<line x1="337.50" y1="298.0" x2="337.50" y2="302.0" stroke="#0000ff" stroke-width="1.20" stroke-dasharray="1.6 1.6"/>
<rect x="342.40" y="234.0" width="1.20" height="2.0" fill="#0000ff"/>
<rect x="342.40" y="241.0" width="1.20" height="2.0" fill="#0000ff"/>
<line x1="347.00" y1="246.0" x2="347.00" y2="255.0" stroke="#0000ff" stroke-width="1.50" stroke-dasharray="1.6 1.6"/>
<line x1="361.50" y1="246.0" x2="361.50" y2="255.0" stroke="#0000ff" stroke-width="1.50" stroke-dasharray="1.6 1.6"/>
<line x1="366.00" y1="278.0" x2="366.00" y2="284.0" stroke="#0000ff" stroke-width="1.20" stroke-dasharray="1.6 1.6"/>
<rect x="368.75" y="278.0" width="1.50" height="15.0" fill="#0000ff"/>
<rect x="387.40" y="287.0" width="1.20" height="2.0" fill="#0000ff"/>
<rect x="404.25" y="248.0" width="1.50" height="12.0" fill="#0000ff"/>
<rect x="406.45" y="240.0" width="1.50" height="16.0" fill="#0000ff"/>
<rect x="407.75" y="270.0" width="1.50" height="34.0" fill="#0000ff"/>
<rect x="410.25" y="265.0" width="1.50" height="39.0" fill="#0000ff"/>
<rect x="412.75" y="224.0" width="5.50" height="38.0" fill="#0000ff"/>
<rect x="413.75" y="262.0" width="1.50" height="42.0" fill="#0000ff"/>
<rect x="416.25" y="262.0" width="1.50" height="28.0" fill="#0000ff"/>
<rect x="425.50" y="275.0" width="3.00" height="29.0" fill="#0000ff"/>
<rect x="435.25" y="275.0" width="4.50" height="29.0" fill="#0000ff"/>
<rect x="438.40" y="243.0" width="1.20" height="2.0" fill="#0000ff"/>
<line x1="446.00" y1="246.0" x2="446.00" y2="253.0" stroke="#0000ff" stroke-width="1.20" stroke-dasharray="1.6 1.6"/>
<line x1="454.00" y1="278.0" x2="454.00" y2="286.0" stroke="#0000ff" stroke-width="1.50" stroke-dasharray="1.6 1.6"/>
<line x1="459.00" y1="278.0" x2="459.00" y2="286.0" stroke="#0000ff" stroke-width="1.50" stroke-dasharray="1.6 1.6"/>
<line x1="469.50" y1="273.0" x2="469.50" y2="304.0" stroke="#0000ff" stroke-width="1.50" stroke-dasharray="1.6 1.6"/>
<line x1="477.00" y1="278.0" x2="477.00" y2="282.0" stroke="#0000ff" stroke-width="1.20" stroke-dasharray="1.6 1.6"/>
<rect x="488.75" y="270.0" width="2.50" height="30.0" fill="#0000ff"/>
<rect x="491.60" y="224.0" width="2.20" height="38.0" fill="#0000ff"/>
<path d="M308.4 278.9h1.6v1.6h-1.6zM315.4 241.9h1.6v1.6h-1.6zM320.4 266.1h1.6v1.6h-1.6zM322.4 265.3h1.6v1.6h-1.6zM324.4 266.0h1.6v1.6h-1.6zM336.4 249.3h1.6v1.6h-1.6zM339.4 282.6h1.6v1.6h-1.6zM343.4 288.6h1.6v1.6h-1.6zM373.4 286.2h1.6v1.6h-1.6zM399.4 250.2h1.6v1.6h-1.6zM435.4 255.5h1.6v1.6h-1.6zM437.4 251.1h1.6v1.6h-1.6zM452.4 279.2h1.6v1.6h-1.6zM453.4 250.9h1.6v1.6h-1.6zM469.4 247.3h1.6v1.6h-1.6zM472.4 247.6h1.6v1.6h-1.6zM474.4 278.9h1.6v1.6h-1.6zM483.4 248.1h1.6v1.6h-1.6zM488.4 251.1h1.6v1.6h-1.6zM495.4 290.7h1.6v1.6h-1.6zM499.4 248.7h1.6v1.6h-1.6zM500.4 249.7h1.6v1.6h-1.6zM503.4 278.9h1.6v1.6h-1.6zM504.4 275.1h1.6v1.6h-1.6zM508.4 277.0h1.6v1.6h-1.6zM509.4 270.6h1.6v1.6h-1.6zM511.4 251.5h1.6v1.6h-1.6zM516.4 253.9h1.6v1.6h-1.6zM528.4 279.5h1.6v1.6h-1.6z" fill="#0000ff"/>
<polyline points="305.4,258.1 306.4,260.2 307.4,256.5 308.4,260.4 309.4,260.4 310.4,264.9 311.4,257.5 312.4,255.6 313.4,257.3 314.4,255.6 315.4,252.8" stroke="#00ff00" stroke-width="3.4" fill="none" stroke-linejoin="round"/>
<polyline points="318.4,253.0 319.4,249.7 320.4,249.9 321.4,251.3 322.4,246.0 323.4,255.9 324.4,255.1 325.4,252.9 326.4,254.2 327.4,256.2 328.4,259.2 329.4,261.5 330.4,265.2 331.4,265.8 332.4,264.0 333.4,260.3 334.4,263.4 335.4,261.7 336.4,264.2 337.4,261.7 338.4,264.7 339.4,261.7 340.4,261.7 341.4,261.7 342.4,269.4 343.4,274.4 344.4,263.8 345.4,262.5 346.4,261.9 347.4,265.7 348.4,265.9 349.4,269.3 350.4,268.1 351.4,267.4 352.4,266.4 353.4,267.0 354.4,268.0 355.4,265.3 356.4,266.4 357.4,266.5 358.4,268.0 359.4,265.1 360.4,263.5 361.4,261.9 362.4,261.5 363.4,257.2 364.4,257.9 365.4,258.8 366.4,266.8 367.4,266.1 368.4,268.6 369.4,268.5 370.4,268.4 371.4,270.4 372.4,269.8 373.4,267.8 374.4,267.1 375.4,266.8 376.4,266.9 377.4,266.4 378.4,266.7 379.4,263.2 380.4,262.1 381.4,263.5 382.4,265.0 383.4,265.7 384.4,265.7 385.4,265.7 386.4,269.7 387.4,273.1 388.4,271.7 389.4,272.1 390.4,268.9 391.4,270.4 392.4,268.1 393.4,268.2 394.4,266.4 395.4,265.8 396.4,266.7 397.4,264.5 398.4,264.0 399.4,267.2 400.4,267.8 401.4,270.5 402.4,270.5 403.4,267.9 404.4,261.7 405.4,261.7 406.4,261.7 407.4,261.7 408.4,261.7 409.4,261.7 410.4,261.7 411.4,264.1 412.4,262.6 413.4,264.7 414.4,264.2 415.4,264.9 416.4,265.0 417.4,261.7 418.4,261.7 419.4,265.8 420.4,269.0 421.4,265.5 422.4,266.5 423.4,271.1 424.4,272.0 425.4,269.6 426.4,270.2 427.4,269.4 428.4,268.1 429.4,265.2 430.4,264.0 431.4,265.5 432.4,266.8 433.4,266.5 434.4,267.7 435.4,265.0 436.4,263.7 437.4,263.7 438.4,265.7 439.4,269.9 440.4,266.1 441.4,262.5 442.4,266.7 443.4,267.7 444.4,268.8 445.4,268.4 446.4,268.0 447.4,267.8 448.4,267.8 449.4,267.8 450.4,267.8 451.4,267.8 452.4,267.8 453.4,264.8 454.4,264.5 455.4,266.7 456.4,267.1 457.4,266.3 458.4,266.2 459.4,265.9 460.4,262.4 461.4,261.7 462.4,258.5 463.4,262.1 464.4,258.4 465.4,261.5 466.4,258.4 467.4,258.4 468.4,262.4 469.4,259.7 470.4,264.3 471.4,266.9 472.4,266.0 473.4,264.3 474.4,262.5 475.4,267.5 476.4,267.8 477.4,267.8 478.4,262.5 479.4,263.7 480.4,262.2 481.4,261.1 482.4,261.5 483.4,263.9 484.4,264.7 485.4,262.5 486.4,261.1 487.4,260.3 488.4,260.7 489.4,264.6 490.4,267.1 491.4,269.8 492.4,268.5 493.4,263.1 494.4,268.7 495.4,266.9 496.4,270.9 497.4,271.6 498.4,270.2 499.4,268.7 500.4,269.3 501.4,265.1 502.4,266.0 503.4,269.0 504.4,268.1 505.4,267.3 506.4,265.5 507.4,265.9 508.4,264.8 509.4,260.1 510.4,262.3 511.4,262.1 512.4,269.5 513.4,268.3 514.4,272.2 515.4,270.3 516.4,260.5 517.4,257.4 518.4,257.0 519.4,260.1 520.4,257.1 521.4,262.7 522.4,255.6 523.4,259.9 524.4,261.8 525.4,264.7 526.4,261.3 527.4,259.7 528.4,265.3 529.4,265.7 530.4,265.4 531.4,262.1 532.4,259.0 533.4,265.3 534.4,263.6 535.4,263.3 536.4,267.0 537.4,266.0" stroke="#00ff00" stroke-width="3.4" fill="none" stroke-linejoin="round"/>
<line x1="472.30" y1="231.0" x2="472.30" y2="242.0" stroke="#00ff00" stroke-width="1.50" stroke-dasharray="1.6 1.6"/>
<rect x="492.75" y="268.0" width="1.50" height="12.0" fill="#00ff00"/>
<rect x="512.30" y="268.0" width="1.80" height="10.5" fill="#00ff00"/>
</g>
<g clip-path="url(#cp30)">
<path d="M58.50 379.09H61.40M58.50 379.09V391.47M59.50 379.09V391.47M60.50 379.09V391.47M61.40 383.22H68.80M61.50 383.22V391.47M62.50 383.22V391.47M63.50 383.22V391.47M64.50 383.22V391.47M65.50 383.22V391.47M66.50 383.22V391.47M67.50 383.22V391.47M68.50 383.22V391.47M68.80 383.22H73.30M73.30 379.09H76.80M73.50 379.09V391.47M74.50 379.09V391.47M75.50 379.09V391.47M76.50 379.09V391.47M76.80 374.97H79.60M76.50 374.97V391.47M77.50 374.97V391.47M78.50 374.97V391.47M79.50 374.97V391.47M79.60 370.84H83.60M79.50 370.84V391.47M80.50 370.84V391.47M81.50 370.84V391.47M82.50 370.84V391.47M83.50 380.45V388.81M83.60 379.09H85.30M83.50 379.09V391.47M84.50 379.09V391.47M85.30 370.84H87.50M85.50 370.84V379.09M86.50 370.84V379.09M87.50 374.97H92.00M87.50 374.97V383.22M88.50 374.97V383.22M89.50 376.61V383.17M90.50 375.73V381.79M91.50 374.97V383.22M92.00 374.97H95.50M92.50 374.97V387.35M93.50 374.97V387.35M94.50 374.97V387.35M95.50 374.97H97.80M95.50 374.97V391.47M96.50 374.97V391.47M97.50 374.97V391.47M97.80 379.09H101.20M97.50 379.09V383.22M98.50 379.09V383.22M99.50 379.09V383.22M100.50 379.14V382.10M101.20 379.09H104.60M101.50 379.45V386.02M102.50 379.09V387.35M103.50 379.09V387.35M104.50 379.09V387.35M104.60 370.84H108.00M104.50 370.84V383.22M105.50 377.37V381.66M106.50 372.35V379.78M107.50 370.84V383.22M108.00 370.84H111.40M108.50 370.84V387.35M109.50 370.89V381.20M110.50 370.84V387.35M111.40 370.84H114.80M111.50 370.84V391.47M112.50 372.92V383.70M113.50 370.84V391.47M114.50 370.84V391.47M114.80 374.97H116.00M114.50 374.97V383.22M115.50 379.23V382.20M116.00 374.97H118.80M116.50 374.97V387.35M117.50 376.74V385.74M118.50 374.97V387.35M118.80 383.22H121.70M118.50 386.13V389.75M119.50 386.25V391.35M120.50 383.22V391.47M121.50 383.22V391.47M121.70 370.84H124.50M121.50 371.04V384.38M122.50 373.61V382.43M123.50 381.57V391.35M124.50 370.84H127.40M124.50 370.84V391.47M125.50 370.84V391.47M126.50 370.84V391.47M127.40 370.84H130.80M127.50 370.84V383.22M128.50 370.84V383.22M129.50 374.07V378.09M130.50 370.84V383.22M130.80 370.84H134.20M130.50 370.84V391.47M131.50 380.11V389.39M132.50 370.84V391.47M133.50 372.11V383.71M134.20 370.84H137.60M134.50 370.84V383.22M135.50 370.84V383.22M136.50 372.49V379.06M137.50 370.84V383.22M137.60 370.84H142.00M137.50 370.84V383.22M138.50 370.84V383.22M139.50 371.07V379.40M140.50 375.08V382.38M141.50 375.40V379.85M137.60 383.22H142.00M137.50 383.22V391.47M139.50 383.22V391.47M142.00 370.84H144.40M142.50 370.84V391.47M143.50 370.84V391.47M144.40 366.72H147.30M144.50 367.43V375.69M145.50 366.72V379.09M146.50 366.72V379.09M145.50 362.59H146.20M145.50 364.47V366.24M147.30 368.78H150.00M147.50 371.98V376.95M148.50 372.98V378.05M149.50 368.78V379.09M147.30 379.09H150.00M147.50 379.09V391.47M149.50 379.09V391.47M150.00 366.72H153.50M150.50 374.98V380.48M151.50 366.72V383.22M152.50 366.72V383.22M153.50 366.72H156.90M153.50 366.72V391.47M154.50 378.09V388.95M155.50 366.72V391.47M156.50 366.72V391.47M156.90 370.84H161.50M156.50 370.84V383.22M157.50 370.84V383.22M158.50 370.84V383.22M159.50 370.84V383.22M160.50 370.84V383.22M156.90 366.72H166.00M157.50 366.72V370.84M162.50 366.72V370.84M161.50 370.84H166.00M161.50 370.84V391.47M162.50 370.84V391.47M163.50 370.84V391.47M164.50 370.84V391.47M165.50 370.84V391.47M166.00 370.84H169.40M166.50 370.84V383.22M167.50 373.00V380.89M168.50 374.98V380.60M169.40 370.84H172.80M169.50 373.56V378.32M170.50 370.84V379.09M171.50 372.25V375.72M172.50 370.84V379.09M172.80 370.84H174.00M172.50 373.84V381.79M173.50 374.35V382.99M174.00 370.84H176.30M174.50 370.84V391.47M175.50 370.84V391.47M176.30 379.09H178.50M176.50 384.04V387.10M177.50 379.09V387.35M178.50 379.09H182.50M178.50 379.09V387.35M179.50 379.09V387.35M180.50 379.09V387.35M181.50 379.09V387.35M182.50 383.22H186.50M182.50 383.22V391.47M183.50 383.22V391.47M184.50 383.22V391.47M185.50 383.22V391.47M186.50 379.09H190.50M186.50 379.09V391.47M187.50 379.09V391.47M188.50 379.09V391.47M189.50 380.06V388.90M190.50 379.09H194.50M190.50 379.09V387.35M191.50 379.09V387.35M192.50 379.09V387.35M193.50 381.48V384.19M194.50 379.09H198.40M194.50 380.45V382.36M195.50 379.09V383.22M196.50 379.33V381.98M197.50 379.09V383.22M198.40 374.97H203.50M203.50 374.97H206.40M203.50 374.97V379.09M204.50 374.97V379.09M205.50 374.97V379.09M206.40 379.09H208.70M206.50 379.22V381.97M207.50 379.67V382.79M208.50 379.09V383.22M208.70 383.22H211.50M211.50 383.22H215.50M211.50 383.22V387.35M212.50 383.22V387.35M213.50 383.22V387.35M214.50 383.22V387.35M215.50 383.22H217.20M215.50 385.13V391.20M216.50 383.22V391.47M217.20 374.97H220.60M217.50 374.97V383.22M218.50 374.97V383.22M219.50 377.74V381.96M220.50 374.97V383.22M220.60 374.97H224.60M220.50 374.97V379.09M221.50 374.97V379.09M222.50 374.97V379.09M223.50 374.97V379.09M224.50 374.97V379.09M224.60 379.09H228.00M224.50 379.09V391.47M225.50 380.97V385.73M226.50 379.09V391.47M227.50 380.64V386.00M228.00 379.09H232.00M228.50 379.09V383.22M229.50 379.09V383.22M230.50 379.09V383.22M231.50 380.00V382.36M232.00 374.97H234.30M232.50 374.97V383.22M233.50 378.52V382.99M234.30 379.09H236.50M234.50 379.44V381.32M235.50 379.09V383.22M236.50 383.22H241.00M237.50 383.22V391.47M241.00 379.09H246.80M241.50 381.24V388.36M242.50 379.09V391.47M243.50 379.09V391.47M244.50 379.09V391.47M245.50 379.09V391.47M246.50 379.09V391.47M246.80 383.22H258.00M258.00 379.09H259.30M258.50 379.12V382.13M259.30 383.22H265.00M259.50 383.22V387.35M260.50 383.22V387.35M261.50 383.22V387.35M262.50 383.22V387.35M263.50 384.11V386.33M264.50 383.22V387.35M265.00 383.22H267.20M265.50 384.64V386.17M266.50 383.22V387.35M267.20 383.22H270.60M267.50 383.22V391.47M268.50 383.22V391.47M269.50 385.85V389.80M270.50 384.80V390.67M270.60 383.22H275.20M272.50 383.22V391.47M273.50 383.22V391.47M275.20 379.09H278.60M275.50 379.09V387.35M276.50 379.09V387.35M277.50 379.09V387.35M278.50 379.09V387.35M278.60 374.97H282.00M278.50 374.97V383.22M279.50 377.32V383.04M280.50 377.21V382.31M281.50 374.97V383.22M282.00 374.97H285.40M282.50 374.97V383.22M285.40 374.97H288.80M285.50 374.97V383.22M286.50 374.97V383.22M287.50 374.97V383.22M288.50 374.97V383.22M288.80 379.09H291.30M288.50 379.09V383.22M289.50 379.09V383.22M290.50 379.09V383.22" stroke="#000" stroke-width="1.1" fill="none"/>
</g>
<g clip-path="url(#cp31)">
<path d="M305.50 341.96V358.46M306.50 341.96V358.46M307.50 346.08V358.46M308.50 347.65V354.43M309.50 346.08V358.46M310.50 346.08V358.46M311.50 346.08V358.46M312.50 346.08V358.46M313.50 348.10V357.27M314.50 346.08V358.46M309.50 358.46H310.50M309.50 367.57V372.82M315.00 345.26H319.00M319.50 346.08V358.46M320.50 346.08V358.46M321.50 346.08V358.46M322.50 350.11V357.56M323.50 339.89V358.46M324.50 349.95V356.56M325.50 339.89V358.46M326.50 339.89V358.46M327.50 339.89V358.46M328.50 339.89V358.46M324.00 358.46H328.00M324.50 358.46V370.84M327.50 358.46V370.84M329.50 337.83V358.46M330.50 337.83V358.46M331.50 337.83V370.84M332.50 337.83V370.84M333.50 337.83V370.84M334.50 337.83V370.84M335.50 337.83V370.84M336.50 341.96V379.09M337.50 341.96V379.09M338.50 341.96V379.09M339.50 358.77V377.84M340.50 341.96V379.09M341.50 347.23V366.65M342.50 341.96V379.09M338.00 379.09H342.00M338.50 379.09V385.28M340.50 379.09V385.28M341.50 379.09V385.28M343.50 350.21V383.22M344.50 350.21V383.22M345.50 350.21V383.22M346.50 350.21V383.22M347.50 342.59V366.52M348.50 341.96V379.09M349.50 345.77V372.93M350.50 341.96V379.09M351.50 341.96V379.09M352.50 337.83V352.27M353.50 337.83V352.27M354.50 337.83V352.27M355.50 333.71V346.08M356.50 333.71V346.08M357.50 333.71V346.08M358.50 333.71V346.08M359.50 341.75V357.18M360.50 333.71V358.46M361.50 333.71V358.46M362.50 333.71V358.46M359.50 358.46H363.00M363.50 332.47V361.35M364.50 336.22V358.21M365.50 332.47V361.35M366.50 332.47V361.35M366.50 339.48V352.27M367.50 339.48V352.27M368.50 339.48V352.27M369.50 339.48V352.27M366.60 352.27H370.30M367.50 352.27V361.35M370.50 328.75V357.64M371.50 331.40V345.51M372.50 328.75V357.64M373.50 346.27V357.57M374.50 331.94V351.02M375.50 333.71V357.64M376.50 333.71V357.64M377.50 333.71V357.64M378.50 333.71V357.64M379.50 337.56V356.49M375.00 357.64H380.30M378.50 357.64V361.35M380.50 330.40V354.34M381.50 330.40V354.34M382.50 330.40V354.34M383.50 325.04V355.57M384.50 325.43V342.26M385.50 334.19V354.84M386.50 325.04V355.57M387.50 344.57V360.50M388.50 332.47V361.35M389.50 337.07V359.84M390.50 332.47V361.35M391.50 342.96V358.96M392.50 339.61V357.24M393.50 332.47V361.35M394.50 325.04V339.48M395.50 325.04V339.48M396.50 325.04V339.48M397.50 325.04V339.48M398.50 325.04V339.48M394.00 339.48H399.40M395.50 339.48V352.27M399.50 334.12V370.84M400.50 334.12V370.84M401.50 334.12V370.84M402.50 334.12V370.84M403.50 334.12V370.84M404.50 334.12V370.84M399.40 370.84H405.00M399.50 370.84V385.28M401.50 370.84V385.28M404.50 370.84V385.28M405.50 339.48V370.84M406.50 339.48V370.84M407.50 339.48V370.84M408.50 339.48V370.84M409.50 339.48V370.84M405.00 370.84H410.00M408.50 370.84V386.93M410.50 337.83V370.84M411.50 349.54V370.81M412.50 337.83V370.84M413.50 337.83V370.84M414.50 352.61V369.46M410.00 370.84H415.00M414.50 370.84V383.22M415.50 348.44V363.88M416.50 339.48V373.73M417.50 339.48V373.73M418.50 339.48V373.73M419.50 348.91V367.62M420.50 342.08V367.08M421.50 349.86V362.01M422.50 337.83V363.41M423.50 337.83V363.41M424.50 337.83V363.41M425.50 341.13V372.08M426.50 341.13V372.08M427.50 341.13V372.08M428.50 341.13V372.08M429.50 341.13V372.08M430.50 345.26V368.78M431.50 345.26V368.78M432.50 345.26V368.78M433.50 345.26V368.78M434.50 345.26V368.78M434.50 343.89V354.46M435.50 339.48V363.41M436.50 339.48V363.41M437.50 347.24V362.74M438.50 339.48V363.41M439.50 334.12V357.64M440.50 334.12V357.64M441.50 334.12V357.64M442.50 334.12V357.64M443.50 334.12V357.64M443.50 329.65V332.72M444.50 328.75V337.83M445.50 328.75V337.83M446.50 335.33V341.64M447.50 331.05V342.40M448.50 325.04V343.61M449.50 325.04V343.61M450.50 321.33V337.83M451.50 324.98V331.46M452.50 321.33V337.83M453.50 321.33V337.83M453.50 331.45V340.64M454.50 328.75V354.34M455.50 328.75V354.34M456.50 328.75V354.34M457.50 328.75V354.34M458.50 340.38V352.47M453.70 354.34H459.00M457.50 354.34V361.35M458.50 354.34V361.35M459.50 330.40V336.18M460.50 330.40V336.18M461.50 330.40V336.18M462.50 330.40V336.18M463.50 330.40V336.18M464.50 330.40V336.18M459.00 336.18H464.60M459.50 336.18V344.02M461.50 336.18V344.02M463.50 336.18V344.02M464.50 330.40V352.27M465.50 330.40V352.27M466.50 330.40V352.27M467.50 330.40V352.27M468.50 330.40V352.27M469.50 330.40V352.27M464.60 352.27H470.00M464.50 352.27V373.73M467.50 352.27V373.73M470.00 330.40H475.50M471.50 330.40V362.59M470.00 362.59H475.50M475.50 332.47V359.70M476.50 332.47V359.70M477.50 332.47V359.70M478.50 332.47V359.70M479.50 337.83V365.07M480.50 337.83V365.07M481.50 337.83V365.07M482.50 337.83V365.07M482.50 363.59V374.21M483.50 345.26V377.44M484.50 363.45V376.61M485.50 345.26V377.44M486.50 345.26V377.44M487.50 350.21V379.09M488.50 350.21V379.09M489.50 350.21V379.09M490.50 350.21V379.09M491.50 350.21V379.09M487.00 334.12H491.70M488.50 334.12V350.21M491.50 341.96V370.84M492.50 341.96V370.84M493.50 341.96V370.84M494.50 341.96V370.84M495.50 342.37V363.36M496.50 341.96V370.84M497.50 341.96V370.84M498.00 350.62H502.60M498.50 350.62V365.07M499.50 350.62V365.07M500.50 350.62V365.07M501.50 350.62V365.07M502.50 353.23V359.01M502.50 343.61V373.73M503.50 343.61V373.73M504.50 343.61V373.73M505.50 343.61V373.73M506.50 343.61V373.73M507.50 343.61V373.73M508.50 350.62V361.35M509.50 353.20V360.64M510.50 350.62V361.35M511.50 351.28V354.56M512.50 350.62V361.35M513.50 346.91V361.35M514.50 355.44V360.38M515.50 346.91V361.35M516.50 352.24V356.65M517.50 349.64V359.58M513.00 361.35H518.00M513.50 361.35V372.91M518.50 353.92V366.72M519.50 353.92V366.72M520.50 353.92V366.72M521.50 353.92V366.72M522.50 357.73V366.63M523.50 358.20V363.59M518.00 366.72H523.60M522.50 366.72V382.81M523.50 341.96V361.35M524.50 341.96V361.35M525.50 341.96V361.35M526.50 341.96V361.35M527.50 341.96V361.35M527.50 338.92V343.89M528.50 340.95V344.59M529.50 337.83V345.26M530.50 337.83V345.26M531.50 334.12V341.13M532.50 336.70V340.59M533.50 334.12V341.13M534.50 334.12V341.13M535.50 334.12V341.13M536.50 335.78V340.47M537.50 334.12V341.13" stroke="#000" stroke-width="1.1" fill="none"/>
</g>
<path d="M77.90 119.20V117.20M77.90 40.80V42.80M97.30 119.20V115.70M97.30 40.80V44.30M116.70 119.20V117.20M116.70 40.80V42.80M136.10 119.20V115.70M136.10 40.80V44.30M155.50 119.20V117.20M155.50 40.80V42.80M174.90 119.20V115.70M174.90 40.80V44.30M194.30 119.20V117.20M194.30 40.80V42.80M213.70 119.20V115.70M213.70 40.80V44.30M233.10 119.20V117.20M233.10 40.80V42.80M252.50 119.20V115.70M252.50 40.80V44.30M271.90 119.20V117.20M271.90 40.80V42.80M58.50 112.67H60.50M291.30 112.67H289.30M58.50 106.13H62.00M291.30 106.13H287.80M58.50 99.60H60.50M291.30 99.60H289.30M58.50 93.07H62.00M291.30 93.07H287.80M58.50 86.53H60.50M291.30 86.53H289.30M58.50 80.00H62.00M291.30 80.00H287.80M58.50 73.47H60.50M291.30 73.47H289.30M58.50 66.93H62.00M291.30 66.93H287.80M58.50 60.40H60.50M291.30 60.40H289.30M58.50 53.87H62.00M291.30 53.87H287.80M58.50 47.33H60.50M291.30 47.33H289.30" stroke="#1c1c1c" stroke-width="1" fill="none"/>
<rect x="58.50" y="40.80" width="232.80" height="78.40" fill="none" stroke="#1c1c1c" stroke-width="1.3"/>
<path d="M324.80 119.20V117.20M324.80 40.80V42.80M344.20 119.20V115.70M344.20 40.80V44.30M363.60 119.20V117.20M363.60 40.80V42.80M383.00 119.20V115.70M383.00 40.80V44.30M402.40 119.20V117.20M402.40 40.80V42.80M421.80 119.20V115.70M421.80 40.80V44.30M441.20 119.20V117.20M441.20 40.80V42.80M460.60 119.20V115.70M460.60 40.80V44.30M480.00 119.20V117.20M480.00 40.80V42.80M499.40 119.20V115.70M499.40 40.80V44.30M518.80 119.20V117.20M518.80 40.80V42.80M305.40 112.67H307.40M538.20 112.67H536.20M305.40 106.13H308.90M538.20 106.13H534.70M305.40 99.60H307.40M538.20 99.60H536.20M305.40 93.07H308.90M538.20 93.07H534.70M305.40 86.53H307.40M538.20 86.53H536.20M305.40 80.00H308.90M538.20 80.00H534.70M305.40 73.47H307.40M538.20 73.47H536.20M305.40 66.93H308.90M538.20 66.93H534.70M305.40 60.40H307.40M538.20 60.40H536.20M305.40 53.87H308.90M538.20 53.87H534.70M305.40 47.33H307.40M538.20 47.33H536.20" stroke="#1c1c1c" stroke-width="1" fill="none"/>
<rect x="305.40" y="40.80" width="232.80" height="78.40" fill="none" stroke="#1c1c1c" stroke-width="1.3"/>
<path d="M77.90 211.40V209.40M77.90 133.00V135.00M97.30 211.40V207.90M97.30 133.00V136.50M116.70 211.40V209.40M116.70 133.00V135.00M136.10 211.40V207.90M136.10 133.00V136.50M155.50 211.40V209.40M155.50 133.00V135.00M174.90 211.40V207.90M174.90 133.00V136.50M194.30 211.40V209.40M194.30 133.00V135.00M213.70 211.40V207.90M213.70 133.00V136.50M233.10 211.40V209.40M233.10 133.00V135.00M252.50 211.40V207.90M252.50 133.00V136.50M271.90 211.40V209.40M271.90 133.00V135.00M58.50 204.87H60.50M291.30 204.87H289.30M58.50 198.33H62.00M291.30 198.33H287.80M58.50 191.80H60.50M291.30 191.80H289.30M58.50 185.27H62.00M291.30 185.27H287.80M58.50 178.73H60.50M291.30 178.73H289.30M58.50 172.20H62.00M291.30 172.20H287.80M58.50 165.67H60.50M291.30 165.67H289.30M58.50 159.13H62.00M291.30 159.13H287.80M58.50 152.60H60.50M291.30 152.60H289.30M58.50 146.07H62.00M291.30 146.07H287.80M58.50 139.53H60.50M291.30 139.53H289.30" stroke="#1c1c1c" stroke-width="1" fill="none"/>
<rect x="58.50" y="133.00" width="232.80" height="78.40" fill="none" stroke="#1c1c1c" stroke-width="1.3"/>
<path d="M324.80 211.40V209.40M324.80 133.00V135.00M344.20 211.40V207.90M344.20 133.00V136.50M363.60 211.40V209.40M363.60 133.00V135.00M383.00 211.40V207.90M383.00 133.00V136.50M402.40 211.40V209.40M402.40 133.00V135.00M421.80 211.40V207.90M421.80 133.00V136.50M441.20 211.40V209.40M441.20 133.00V135.00M460.60 211.40V207.90M460.60 133.00V136.50M480.00 211.40V209.40M480.00 133.00V135.00M499.40 211.40V207.90M499.40 133.00V136.50M518.80 211.40V209.40M518.80 133.00V135.00M305.40 204.87H307.40M538.20 204.87H536.20M305.40 198.33H308.90M538.20 198.33H534.70M305.40 191.80H307.40M538.20 191.80H536.20M305.40 185.27H308.90M538.20 185.27H534.70M305.40 178.73H307.40M538.20 178.73H536.20M305.40 172.20H308.90M538.20 172.20H534.70M305.40 165.67H307.40M538.20 165.67H536.20M305.40 159.13H308.90M538.20 159.13H534.70M305.40 152.60H307.40M538.20 152.60H536.20M305.40 146.07H308.90M538.20 146.07H534.70M305.40 139.53H307.40M538.20 139.53H536.20" stroke="#1c1c1c" stroke-width="1" fill="none"/>
<rect x="305.40" y="133.00" width="232.80" height="78.40" fill="none" stroke="#1c1c1c" stroke-width="1.3"/>
<path d="M77.90 303.50V301.50M77.90 225.10V227.10M97.30 303.50V300.00M97.30 225.10V228.60M116.70 303.50V301.50M116.70 225.10V227.10M136.10 303.50V300.00M136.10 225.10V228.60M155.50 303.50V301.50M155.50 225.10V227.10M174.90 303.50V300.00M174.90 225.10V228.60M194.30 303.50V301.50M194.30 225.10V227.10M213.70 303.50V300.00M213.70 225.10V228.60M233.10 303.50V301.50M233.10 225.10V227.10M252.50 303.50V300.00M252.50 225.10V228.60M271.90 303.50V301.50M271.90 225.10V227.10M58.50 296.97H60.50M291.30 296.97H289.30M58.50 290.43H62.00M291.30 290.43H287.80M58.50 283.90H60.50M291.30 283.90H289.30M58.50 277.37H62.00M291.30 277.37H287.80M58.50 270.83H60.50M291.30 270.83H289.30M58.50 264.30H62.00M291.30 264.30H287.80M58.50 257.77H60.50M291.30 257.77H289.30M58.50 251.23H62.00M291.30 251.23H287.80M58.50 244.70H60.50M291.30 244.70H289.30M58.50 238.17H62.00M291.30 238.17H287.80M58.50 231.63H60.50M291.30 231.63H289.30" stroke="#1c1c1c" stroke-width="1" fill="none"/>
<rect x="58.50" y="225.10" width="232.80" height="78.40" fill="none" stroke="#1c1c1c" stroke-width="1.3"/>
<path d="M324.80 303.50V301.50M324.80 225.10V227.10M344.20 303.50V300.00M344.20 225.10V228.60M363.60 303.50V301.50M363.60 225.10V227.10M383.00 303.50V300.00M383.00 225.10V228.60M402.40 303.50V301.50M402.40 225.10V227.10M421.80 303.50V300.00M421.80 225.10V228.60M441.20 303.50V301.50M441.20 225.10V227.10M460.60 303.50V300.00M460.60 225.10V228.60M480.00 303.50V301.50M480.00 225.10V227.10M499.40 303.50V300.00M499.40 225.10V228.60M518.80 303.50V301.50M518.80 225.10V227.10M305.40 296.97H307.40M538.20 296.97H536.20M305.40 290.43H308.90M538.20 290.43H534.70M305.40 283.90H307.40M538.20 283.90H536.20M305.40 277.37H308.90M538.20 277.37H534.70M305.40 270.83H307.40M538.20 270.83H536.20M305.40 264.30H308.90M538.20 264.30H534.70M305.40 257.77H307.40M538.20 257.77H536.20M305.40 251.23H308.90M538.20 251.23H534.70M305.40 244.70H307.40M538.20 244.70H536.20M305.40 238.17H308.90M538.20 238.17H534.70M305.40 231.63H307.40M538.20 231.63H536.20" stroke="#1c1c1c" stroke-width="1" fill="none"/>
<rect x="305.40" y="225.10" width="232.80" height="78.40" fill="none" stroke="#1c1c1c" stroke-width="1.3"/>
<path d="M77.90 395.60V393.60M77.90 317.20V319.20M97.30 395.60V392.10M97.30 317.20V320.70M116.70 395.60V393.60M116.70 317.20V319.20M136.10 395.60V392.10M136.10 317.20V320.70M155.50 395.60V393.60M155.50 317.20V319.20M174.90 395.60V392.10M174.90 317.20V320.70M194.30 395.60V393.60M194.30 317.20V319.20M213.70 395.60V392.10M213.70 317.20V320.70M233.10 395.60V393.60M233.10 317.20V319.20M252.50 395.60V392.10M252.50 317.20V320.70M271.90 395.60V393.60M271.90 317.20V319.20M58.50 387.35H60.50M291.30 387.35H289.30M58.50 379.09H62.00M291.30 379.09H287.80M58.50 370.84H60.50M291.30 370.84H289.30M58.50 362.59H62.00M291.30 362.59H287.80M58.50 354.34H60.50M291.30 354.34H289.30M58.50 346.08H62.00M291.30 346.08H287.80M58.50 337.83H60.50M291.30 337.83H289.30M58.50 329.58H62.00M291.30 329.58H287.80M58.50 321.33H60.50M291.30 321.33H289.30" stroke="#1c1c1c" stroke-width="1" fill="none"/>
<rect x="58.50" y="317.20" width="232.80" height="78.40" fill="none" stroke="#1c1c1c" stroke-width="1.3"/>
<path d="M324.80 395.60V393.60M324.80 317.20V319.20M344.20 395.60V392.10M344.20 317.20V320.70M363.60 395.60V393.60M363.60 317.20V319.20M383.00 395.60V392.10M383.00 317.20V320.70M402.40 395.60V393.60M402.40 317.20V319.20M421.80 395.60V392.10M421.80 317.20V320.70M441.20 395.60V393.60M441.20 317.20V319.20M460.60 395.60V392.10M460.60 317.20V320.70M480.00 395.60V393.60M480.00 317.20V319.20M499.40 395.60V392.10M499.40 317.20V320.70M518.80 395.60V393.60M518.80 317.20V319.20M305.40 387.35H307.40M538.20 387.35H536.20M305.40 379.09H308.90M538.20 379.09H534.70M305.40 370.84H307.40M538.20 370.84H536.20M305.40 362.59H308.90M538.20 362.59H534.70M305.40 354.34H307.40M538.20 354.34H536.20M305.40 346.08H308.90M538.20 346.08H534.70M305.40 337.83H307.40M538.20 337.83H536.20M305.40 329.58H308.90M538.20 329.58H534.70M305.40 321.33H307.40M538.20 321.33H536.20" stroke="#1c1c1c" stroke-width="1" fill="none"/>
<rect x="305.40" y="317.20" width="232.80" height="78.40" fill="none" stroke="#1c1c1c" stroke-width="1.3"/>
<g style="font-family:'Liberation Sans',Arial,sans-serif;font-size:12px" fill="#1c1c1c" stroke="#1c1c1c" stroke-width="0.35" text-anchor="end">
<text x="53.8" y="45.10">1.5</text>
<text x="53.8" y="58.17">1.0</text>
<text x="53.8" y="71.23">0.5</text>
<text x="53.8" y="84.30">0.0</text>
<text x="53.8" y="97.37">-0.5</text>
<text x="53.8" y="110.43">-1.0</text>
<text x="53.8" y="123.50">-1.5</text>
<text x="53.8" y="137.30">1.5</text>
<text x="53.8" y="150.37">1.0</text>
<text x="53.8" y="163.43">0.5</text>
<text x="53.8" y="176.50">0.0</text>
<text x="53.8" y="189.57">-0.5</text>
<text x="53.8" y="202.63">-1.0</text>
<text x="53.8" y="215.70">-1.5</text>
<text x="53.8" y="229.40">3</text>
<text x="53.8" y="242.47">2</text>
<text x="53.8" y="255.53">1</text>
<text x="53.8" y="268.60">0</text>
<text x="53.8" y="281.67">-1</text>
<text x="53.8" y="294.73">-2</text>
<text x="53.8" y="307.80">-3</text>
<text x="53.8" y="333.88">20</text>
<text x="53.8" y="350.38">16</text>
<text x="53.8" y="366.89">12</text>
<text x="53.8" y="383.39">8</text>
<text x="53.8" y="399.90">4</text>
</g>
<g style="font-family:'Liberation Sans',Arial,sans-serif;font-size:12px" fill="#1c1c1c" stroke="#1c1c1c" stroke-width="0.35" text-anchor="middle">
<text x="57.20" y="410.2">0</text>
<text x="96.00" y="410.2">4</text>
<text x="134.80" y="410.2">8</text>
<text x="173.60" y="410.2">12</text>
<text x="212.40" y="410.2">16</text>
<text x="251.20" y="410.2">20</text>
<text x="290.00" y="410.2">24</text>
<text x="304.10" y="410.2">0</text>
<text x="342.90" y="410.2">4</text>
<text x="381.70" y="410.2">8</text>
<text x="420.50" y="410.2">12</text>
<text x="459.30" y="410.2">16</text>
<text x="498.10" y="410.2">20</text>
<text x="536.90" y="410.2">24</text>
</g>
<g style="font-family:'Liberation Sans',Arial,sans-serif;font-size:13px" fill="#1c1c1c" stroke="#1c1c1c" stroke-width="0.2" text-anchor="middle">
<text x="174.90" y="431.6">GPS Time (h)</text>
<text x="421.80" y="431.6">GPS Time (h)</text>
<text transform="translate(24.1,68.5) rotate(-90)">N (m)</text>
<text transform="translate(24.1,163.8) rotate(-90)">E (m)</text>
<text transform="translate(24.3,252) rotate(-90)">U (m)</text>
<text transform="translate(18,355.5) rotate(-90)">Number of</text>
<text transform="translate(34,355.5) rotate(-90)">Satellites</text>
</g>
<g style="font-family:'Liberation Sans',Arial,sans-serif;font-size:13px" fill="#1c1c1c" stroke="#1c1c1c" stroke-width="0.35" text-anchor="end">
<text x="290.6" y="31.6">GPS</text>
<text x="538.8" y="31.6">GPS+BDS</text>
</g>
<rect x="58.40" y="18.4" width="109" height="17.8" fill="#fff" stroke="#1c1c1c" stroke-width="1.2"/>
<rect x="71.40" y="24.0" width="6.4" height="6.3" fill="#0000ff"/>
<rect x="126.20" y="24.0" width="6.4" height="6.3" fill="#00ff00"/>
<g style="font-family:'Liberation Sans',Arial,sans-serif;font-size:12px" fill="#1c1c1c" stroke="#1c1c1c" stroke-width="0.35">
<text x="92.80" y="31.5">RD</text>
<text x="147.80" y="31.5">PD</text>
</g>
<rect x="305.30" y="18.4" width="109" height="17.8" fill="#fff" stroke="#1c1c1c" stroke-width="1.2"/>
<rect x="318.30" y="24.0" width="6.4" height="6.3" fill="#0000ff"/>
<rect x="373.10" y="24.0" width="6.4" height="6.3" fill="#00ff00"/>
<g style="font-family:'Liberation Sans',Arial,sans-serif;font-size:12px" fill="#1c1c1c" stroke="#1c1c1c" stroke-width="0.35">
<text x="339.70" y="31.5">RD</text>
<text x="394.70" y="31.5">PD</text>
</g>
</svg></body></html>
